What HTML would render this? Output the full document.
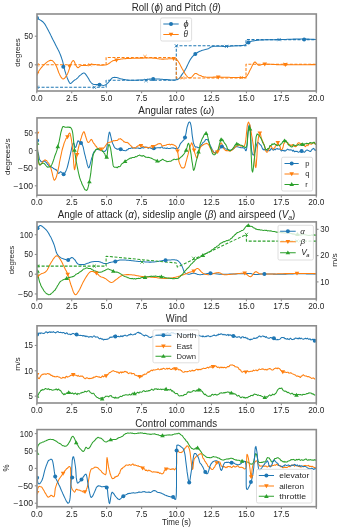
<!DOCTYPE html>
<html><head><meta charset="utf-8"><style>
html,body{margin:0;padding:0;background:#fff;}
svg{display:block;will-change:transform;font-family:"Liberation Sans",sans-serif;}
</style></head><body>
<svg width="342" height="531" viewBox="0 0 342 531">
<rect width="342" height="531" fill="#fff"/>
<g stroke="#8c8c8c" stroke-width="1.1" fill="#262626">
<line x1="36.80" y1="91.00" x2="36.80" y2="93.20" />
<line x1="71.74" y1="91.00" x2="71.74" y2="93.20" />
<line x1="106.67" y1="91.00" x2="106.67" y2="93.20" />
<line x1="141.61" y1="91.00" x2="141.61" y2="93.20" />
<line x1="176.55" y1="91.00" x2="176.55" y2="93.20" />
<line x1="211.49" y1="91.00" x2="211.49" y2="93.20" />
<line x1="246.43" y1="91.00" x2="246.43" y2="93.20" />
<line x1="281.36" y1="91.00" x2="281.36" y2="93.20" />
<line x1="316.30" y1="91.00" x2="316.30" y2="93.20" />
<text x="36.80" y="101.00" font-size="8.3" text-anchor="middle" stroke="none" textLength="11.6" lengthAdjust="spacingAndGlyphs" >0.0</text>
<text x="71.74" y="101.00" font-size="8.3" text-anchor="middle" stroke="none" textLength="11.6" lengthAdjust="spacingAndGlyphs" >2.5</text>
<text x="106.67" y="101.00" font-size="8.3" text-anchor="middle" stroke="none" textLength="11.6" lengthAdjust="spacingAndGlyphs" >5.0</text>
<text x="141.61" y="101.00" font-size="8.3" text-anchor="middle" stroke="none" textLength="11.6" lengthAdjust="spacingAndGlyphs" >7.5</text>
<text x="176.55" y="101.00" font-size="8.3" text-anchor="middle" stroke="none" textLength="16.2" lengthAdjust="spacingAndGlyphs" >10.0</text>
<text x="211.49" y="101.00" font-size="8.3" text-anchor="middle" stroke="none" textLength="16.2" lengthAdjust="spacingAndGlyphs" >12.5</text>
<text x="246.43" y="101.00" font-size="8.3" text-anchor="middle" stroke="none" textLength="16.2" lengthAdjust="spacingAndGlyphs" >15.0</text>
<text x="281.36" y="101.00" font-size="8.3" text-anchor="middle" stroke="none" textLength="16.2" lengthAdjust="spacingAndGlyphs" >17.5</text>
<text x="316.30" y="101.00" font-size="8.3" text-anchor="middle" stroke="none" textLength="16.2" lengthAdjust="spacingAndGlyphs" >20.0</text>
<line x1="34.80" y1="36.20" x2="37.00" y2="36.20" />
<text x="33.00" y="39.20" font-size="8.3" text-anchor="end" stroke="none" textLength="8.8" lengthAdjust="spacingAndGlyphs" >50</text>
<line x1="34.80" y1="64.80" x2="37.00" y2="64.80" />
<text x="33.00" y="67.80" font-size="8.3" text-anchor="end" stroke="none" textLength="4.4" lengthAdjust="spacingAndGlyphs" >0</text>
<line x1="36.80" y1="195.20" x2="36.80" y2="197.40" />
<line x1="71.74" y1="195.20" x2="71.74" y2="197.40" />
<line x1="106.67" y1="195.20" x2="106.67" y2="197.40" />
<line x1="141.61" y1="195.20" x2="141.61" y2="197.40" />
<line x1="176.55" y1="195.20" x2="176.55" y2="197.40" />
<line x1="211.49" y1="195.20" x2="211.49" y2="197.40" />
<line x1="246.43" y1="195.20" x2="246.43" y2="197.40" />
<line x1="281.36" y1="195.20" x2="281.36" y2="197.40" />
<line x1="316.30" y1="195.20" x2="316.30" y2="197.40" />
<text x="36.80" y="205.20" font-size="8.3" text-anchor="middle" stroke="none" textLength="11.6" lengthAdjust="spacingAndGlyphs" >0.0</text>
<text x="71.74" y="205.20" font-size="8.3" text-anchor="middle" stroke="none" textLength="11.6" lengthAdjust="spacingAndGlyphs" >2.5</text>
<text x="106.67" y="205.20" font-size="8.3" text-anchor="middle" stroke="none" textLength="11.6" lengthAdjust="spacingAndGlyphs" >5.0</text>
<text x="141.61" y="205.20" font-size="8.3" text-anchor="middle" stroke="none" textLength="11.6" lengthAdjust="spacingAndGlyphs" >7.5</text>
<text x="176.55" y="205.20" font-size="8.3" text-anchor="middle" stroke="none" textLength="16.2" lengthAdjust="spacingAndGlyphs" >10.0</text>
<text x="211.49" y="205.20" font-size="8.3" text-anchor="middle" stroke="none" textLength="16.2" lengthAdjust="spacingAndGlyphs" >12.5</text>
<text x="246.43" y="205.20" font-size="8.3" text-anchor="middle" stroke="none" textLength="16.2" lengthAdjust="spacingAndGlyphs" >15.0</text>
<text x="281.36" y="205.20" font-size="8.3" text-anchor="middle" stroke="none" textLength="16.2" lengthAdjust="spacingAndGlyphs" >17.5</text>
<text x="316.30" y="205.20" font-size="8.3" text-anchor="middle" stroke="none" textLength="16.2" lengthAdjust="spacingAndGlyphs" >20.0</text>
<line x1="34.80" y1="132.85" x2="37.00" y2="132.85" />
<text x="33.00" y="135.85" font-size="8.3" text-anchor="end" stroke="none" textLength="8.8" lengthAdjust="spacingAndGlyphs" >50</text>
<line x1="34.80" y1="150.50" x2="37.00" y2="150.50" />
<text x="33.00" y="153.50" font-size="8.3" text-anchor="end" stroke="none" textLength="4.4" lengthAdjust="spacingAndGlyphs" >0</text>
<line x1="34.80" y1="168.15" x2="37.00" y2="168.15" />
<text x="33.00" y="171.15" font-size="8.3" text-anchor="end" stroke="none" textLength="15.0" lengthAdjust="spacingAndGlyphs" >−50</text>
<line x1="34.80" y1="185.80" x2="37.00" y2="185.80" />
<text x="33.00" y="188.80" font-size="8.3" text-anchor="end" stroke="none" textLength="19.400000000000002" lengthAdjust="spacingAndGlyphs" >−100</text>
<line x1="36.80" y1="299.00" x2="36.80" y2="301.20" />
<line x1="71.74" y1="299.00" x2="71.74" y2="301.20" />
<line x1="106.67" y1="299.00" x2="106.67" y2="301.20" />
<line x1="141.61" y1="299.00" x2="141.61" y2="301.20" />
<line x1="176.55" y1="299.00" x2="176.55" y2="301.20" />
<line x1="211.49" y1="299.00" x2="211.49" y2="301.20" />
<line x1="246.43" y1="299.00" x2="246.43" y2="301.20" />
<line x1="281.36" y1="299.00" x2="281.36" y2="301.20" />
<line x1="316.30" y1="299.00" x2="316.30" y2="301.20" />
<text x="36.80" y="309.00" font-size="8.3" text-anchor="middle" stroke="none" textLength="11.6" lengthAdjust="spacingAndGlyphs" >0.0</text>
<text x="71.74" y="309.00" font-size="8.3" text-anchor="middle" stroke="none" textLength="11.6" lengthAdjust="spacingAndGlyphs" >2.5</text>
<text x="106.67" y="309.00" font-size="8.3" text-anchor="middle" stroke="none" textLength="11.6" lengthAdjust="spacingAndGlyphs" >5.0</text>
<text x="141.61" y="309.00" font-size="8.3" text-anchor="middle" stroke="none" textLength="11.6" lengthAdjust="spacingAndGlyphs" >7.5</text>
<text x="176.55" y="309.00" font-size="8.3" text-anchor="middle" stroke="none" textLength="16.2" lengthAdjust="spacingAndGlyphs" >10.0</text>
<text x="211.49" y="309.00" font-size="8.3" text-anchor="middle" stroke="none" textLength="16.2" lengthAdjust="spacingAndGlyphs" >12.5</text>
<text x="246.43" y="309.00" font-size="8.3" text-anchor="middle" stroke="none" textLength="16.2" lengthAdjust="spacingAndGlyphs" >15.0</text>
<text x="281.36" y="309.00" font-size="8.3" text-anchor="middle" stroke="none" textLength="16.2" lengthAdjust="spacingAndGlyphs" >17.5</text>
<text x="316.30" y="309.00" font-size="8.3" text-anchor="middle" stroke="none" textLength="16.2" lengthAdjust="spacingAndGlyphs" >20.0</text>
<line x1="34.80" y1="234.73" x2="37.00" y2="234.73" />
<text x="33.00" y="237.73" font-size="8.3" text-anchor="end" stroke="none" textLength="13.2" lengthAdjust="spacingAndGlyphs" >100</text>
<line x1="34.80" y1="254.46" x2="37.00" y2="254.46" />
<text x="33.00" y="257.46" font-size="8.3" text-anchor="end" stroke="none" textLength="8.8" lengthAdjust="spacingAndGlyphs" >50</text>
<line x1="34.80" y1="274.20" x2="37.00" y2="274.20" />
<text x="33.00" y="277.20" font-size="8.3" text-anchor="end" stroke="none" textLength="4.4" lengthAdjust="spacingAndGlyphs" >0</text>
<line x1="34.80" y1="293.94" x2="37.00" y2="293.94" />
<text x="33.00" y="296.94" font-size="8.3" text-anchor="end" stroke="none" textLength="15.0" lengthAdjust="spacingAndGlyphs" >−50</text>
<line x1="36.80" y1="403.00" x2="36.80" y2="405.20" />
<line x1="71.74" y1="403.00" x2="71.74" y2="405.20" />
<line x1="106.67" y1="403.00" x2="106.67" y2="405.20" />
<line x1="141.61" y1="403.00" x2="141.61" y2="405.20" />
<line x1="176.55" y1="403.00" x2="176.55" y2="405.20" />
<line x1="211.49" y1="403.00" x2="211.49" y2="405.20" />
<line x1="246.43" y1="403.00" x2="246.43" y2="405.20" />
<line x1="281.36" y1="403.00" x2="281.36" y2="405.20" />
<line x1="316.30" y1="403.00" x2="316.30" y2="405.20" />
<text x="36.80" y="413.00" font-size="8.3" text-anchor="middle" stroke="none" textLength="11.6" lengthAdjust="spacingAndGlyphs" >0.0</text>
<text x="71.74" y="413.00" font-size="8.3" text-anchor="middle" stroke="none" textLength="11.6" lengthAdjust="spacingAndGlyphs" >2.5</text>
<text x="106.67" y="413.00" font-size="8.3" text-anchor="middle" stroke="none" textLength="11.6" lengthAdjust="spacingAndGlyphs" >5.0</text>
<text x="141.61" y="413.00" font-size="8.3" text-anchor="middle" stroke="none" textLength="11.6" lengthAdjust="spacingAndGlyphs" >7.5</text>
<text x="176.55" y="413.00" font-size="8.3" text-anchor="middle" stroke="none" textLength="16.2" lengthAdjust="spacingAndGlyphs" >10.0</text>
<text x="211.49" y="413.00" font-size="8.3" text-anchor="middle" stroke="none" textLength="16.2" lengthAdjust="spacingAndGlyphs" >12.5</text>
<text x="246.43" y="413.00" font-size="8.3" text-anchor="middle" stroke="none" textLength="16.2" lengthAdjust="spacingAndGlyphs" >15.0</text>
<text x="281.36" y="413.00" font-size="8.3" text-anchor="middle" stroke="none" textLength="16.2" lengthAdjust="spacingAndGlyphs" >17.5</text>
<text x="316.30" y="413.00" font-size="8.3" text-anchor="middle" stroke="none" textLength="16.2" lengthAdjust="spacingAndGlyphs" >20.0</text>
<line x1="34.80" y1="345.45" x2="37.00" y2="345.45" />
<text x="33.00" y="348.45" font-size="8.3" text-anchor="end" stroke="none" textLength="8.8" lengthAdjust="spacingAndGlyphs" >15</text>
<line x1="34.80" y1="370.80" x2="37.00" y2="370.80" />
<text x="33.00" y="373.80" font-size="8.3" text-anchor="end" stroke="none" textLength="8.8" lengthAdjust="spacingAndGlyphs" >10</text>
<line x1="34.80" y1="396.15" x2="37.00" y2="396.15" />
<text x="33.00" y="399.15" font-size="8.3" text-anchor="end" stroke="none" textLength="4.4" lengthAdjust="spacingAndGlyphs" >5</text>
<line x1="36.80" y1="506.70" x2="36.80" y2="508.90" />
<line x1="71.74" y1="506.70" x2="71.74" y2="508.90" />
<line x1="106.67" y1="506.70" x2="106.67" y2="508.90" />
<line x1="141.61" y1="506.70" x2="141.61" y2="508.90" />
<line x1="176.55" y1="506.70" x2="176.55" y2="508.90" />
<line x1="211.49" y1="506.70" x2="211.49" y2="508.90" />
<line x1="246.43" y1="506.70" x2="246.43" y2="508.90" />
<line x1="281.36" y1="506.70" x2="281.36" y2="508.90" />
<line x1="316.30" y1="506.70" x2="316.30" y2="508.90" />
<text x="36.80" y="516.70" font-size="8.3" text-anchor="middle" stroke="none" textLength="11.6" lengthAdjust="spacingAndGlyphs" >0.0</text>
<text x="71.74" y="516.70" font-size="8.3" text-anchor="middle" stroke="none" textLength="11.6" lengthAdjust="spacingAndGlyphs" >2.5</text>
<text x="106.67" y="516.70" font-size="8.3" text-anchor="middle" stroke="none" textLength="11.6" lengthAdjust="spacingAndGlyphs" >5.0</text>
<text x="141.61" y="516.70" font-size="8.3" text-anchor="middle" stroke="none" textLength="11.6" lengthAdjust="spacingAndGlyphs" >7.5</text>
<text x="176.55" y="516.70" font-size="8.3" text-anchor="middle" stroke="none" textLength="16.2" lengthAdjust="spacingAndGlyphs" >10.0</text>
<text x="211.49" y="516.70" font-size="8.3" text-anchor="middle" stroke="none" textLength="16.2" lengthAdjust="spacingAndGlyphs" >12.5</text>
<text x="246.43" y="516.70" font-size="8.3" text-anchor="middle" stroke="none" textLength="16.2" lengthAdjust="spacingAndGlyphs" >15.0</text>
<text x="281.36" y="516.70" font-size="8.3" text-anchor="middle" stroke="none" textLength="16.2" lengthAdjust="spacingAndGlyphs" >17.5</text>
<line x1="34.80" y1="433.58" x2="37.00" y2="433.58" />
<text x="33.00" y="436.58" font-size="8.3" text-anchor="end" stroke="none" textLength="13.2" lengthAdjust="spacingAndGlyphs" >100</text>
<line x1="34.80" y1="450.99" x2="37.00" y2="450.99" />
<text x="33.00" y="453.99" font-size="8.3" text-anchor="end" stroke="none" textLength="8.8" lengthAdjust="spacingAndGlyphs" >50</text>
<line x1="34.80" y1="468.40" x2="37.00" y2="468.40" />
<text x="33.00" y="471.40" font-size="8.3" text-anchor="end" stroke="none" textLength="4.4" lengthAdjust="spacingAndGlyphs" >0</text>
<line x1="34.80" y1="485.81" x2="37.00" y2="485.81" />
<text x="33.00" y="488.81" font-size="8.3" text-anchor="end" stroke="none" textLength="15.0" lengthAdjust="spacingAndGlyphs" >−50</text>
<line x1="34.80" y1="503.22" x2="37.00" y2="503.22" />
<text x="33.00" y="506.22" font-size="8.3" text-anchor="end" stroke="none" textLength="19.400000000000002" lengthAdjust="spacingAndGlyphs" >−100</text>
<line x1="316.30" y1="229.30" x2="318.50" y2="229.30" />
<text x="320.30" y="231.90" font-size="8.3" text-anchor="start" stroke="none" textLength="8.8" lengthAdjust="spacingAndGlyphs" >30</text>
<line x1="316.30" y1="255.60" x2="318.50" y2="255.60" />
<text x="320.30" y="258.20" font-size="8.3" text-anchor="start" stroke="none" textLength="8.8" lengthAdjust="spacingAndGlyphs" >20</text>
<line x1="316.30" y1="281.90" x2="318.50" y2="281.90" />
<text x="320.30" y="284.50" font-size="8.3" text-anchor="start" stroke="none" textLength="8.8" lengthAdjust="spacingAndGlyphs" >10</text>
</g>
<clipPath id="c1"><rect x="37" y="14.0" width="279.3" height="77.2"/></clipPath><g clip-path="url(#c1)">
<path d="M37.0,18.1 L37.6,18.5 L38.4,18.9 L39.3,19.5 L40.4,20.1 L41.4,20.8 L42.4,21.5 L43.2,22.2 L44.2,23.3 L45.0,24.4 L45.8,25.7 L46.5,27.0 L47.3,28.4 L48.1,29.9 L48.9,31.5 L49.8,33.2 L50.6,34.9 L51.4,36.6 L52.2,38.2 L53.0,39.8 L53.9,41.5 L54.7,43.1 L55.5,44.7 L56.3,46.3 L57.2,48.0 L58.0,49.6 L58.9,51.3 L59.6,52.9 L60.5,55.0 L61.3,57.2 L62.0,59.3 L62.6,61.1 L63.2,63.6 L63.7,66.0 L64.3,68.3 L64.9,70.8 L65.7,73.4 L66.4,75.5 L67.2,77.9 L68.1,80.0 L68.8,81.6 L69.5,82.8 L70.1,83.4 L70.8,83.4 L71.5,83.0 L72.3,82.2 L73.1,81.4 L73.9,80.6 L74.7,80.0 L75.5,79.6 L76.2,79.1 L77.0,78.5 L77.7,77.8 L78.4,77.0 L79.2,76.1 L80.0,75.4 L80.8,74.8 L81.6,74.1 L82.5,73.5 L83.3,73.1 L84.1,73.0 L84.9,73.4 L85.7,74.3 L86.4,75.4 L87.2,76.5 L88.0,77.7 L88.8,79.1 L89.5,80.5 L90.3,81.6 L91.0,82.5 L91.6,83.2 L92.3,83.8 L93.3,84.2 L94.0,84.4 L94.9,84.5 L95.8,84.6 L96.8,84.6 L97.8,84.6 L98.7,84.6 L99.5,84.7 L100.5,84.9 L101.5,85.1 L102.4,85.3 L103.2,85.4 L104.1,85.3 L105.0,85.0 L105.8,84.6 L106.6,84.0 L107.4,83.3 L108.2,82.6 L109.0,81.7 L109.8,80.7 L110.7,79.6 L111.5,78.6 L112.3,77.9 L113.1,77.5 L113.9,77.4 L114.8,77.3 L115.6,77.4 L116.4,77.5 L117.2,77.6 L117.8,77.9 L118.6,78.1 L119.4,78.4 L120.5,78.7 L121.2,78.9 L122.0,79.0 L122.8,79.2 L123.6,79.4 L124.6,79.6 L125.5,79.8 L126.5,80.0 L127.6,80.1 L128.7,80.2 L129.5,80.2 L130.4,80.3 L131.2,80.3 L132.2,80.3 L133.1,80.3 L134.1,80.3 L135.0,80.3 L136.0,80.2 L137.0,80.2 L138.0,80.1 L139.0,80.1 L139.9,80.0 L140.9,80.0 L141.8,79.9 L142.8,79.9 L143.7,79.8 L144.7,79.7 L145.6,79.6 L146.6,79.5 L147.6,79.3 L148.5,79.2 L149.4,79.1 L150.4,79.1 L151.3,79.0 L152.3,78.9 L153.2,78.9 L154.2,78.9 L155.2,78.9 L156.3,78.9 L157.3,79.0 L158.3,79.0 L159.4,79.1 L160.4,79.2 L161.4,79.2 L162.3,79.3 L163.2,79.4 L164.1,79.4 L165.0,79.5 L166.1,79.6 L167.1,79.6 L168.1,79.7 L169.1,79.8 L170.0,79.9 L170.8,79.9 L171.7,80.0 L172.4,80.0 L173.2,80.0 L174.3,80.0 L175.2,79.9 L176.1,79.8 L176.9,79.7 L177.6,79.4 L178.3,79.1 L179.2,78.4 L179.9,77.6 L180.6,76.6 L181.4,75.4 L182.1,74.4 L182.9,73.3 L183.7,72.2 L184.6,70.8 L185.5,69.3 L186.3,67.8 L187.1,66.0 L188.0,64.1 L188.9,62.3 L189.8,60.6 L190.6,59.1 L191.6,57.7 L192.5,56.6 L193.4,55.7 L194.3,54.8 L195.3,54.0 L196.2,53.4 L197.0,52.8 L197.9,52.3 L198.8,51.8 L199.8,51.3 L200.8,50.9 L201.6,50.6 L202.5,50.3 L203.5,50.1 L204.4,49.8 L205.4,49.6 L206.3,49.3 L207.2,49.1 L208.0,48.8 L208.9,48.4 L209.6,47.9 L210.2,47.5 L210.9,47.0 L211.8,46.7 L213.1,46.4 L213.8,46.3 L214.6,46.3 L215.5,46.3 L216.4,46.2 L217.4,46.2 L218.5,46.3 L219.5,46.3 L220.6,46.3 L221.7,46.3 L222.7,46.4 L223.7,46.4 L224.7,46.4 L225.6,46.4 L226.4,46.4 L227.6,46.4 L228.6,46.3 L229.6,46.2 L230.5,46.2 L231.4,46.1 L232.3,46.0 L233.1,45.9 L234.0,45.9 L235.0,45.8 L235.9,45.7 L236.9,45.7 L237.9,45.7 L239.0,45.7 L240.0,45.6 L241.0,45.6 L241.9,45.5 L242.8,45.4 L243.6,45.3 L244.3,45.2 L245.5,44.7 L246.1,44.0 L246.6,43.3 L247.4,42.7 L248.1,42.4 L248.8,42.1 L249.6,41.8 L250.5,41.6 L251.4,41.3 L252.5,41.1 L253.2,41.0 L253.9,40.8 L254.6,40.7 L255.4,40.5 L256.2,40.4 L257.1,40.3 L258.1,40.2 L259.3,40.1 L260.7,40.0 L261.4,40.0 L262.2,39.9 L263.0,39.9 L263.9,39.9 L264.7,39.8 L265.7,39.8 L266.6,39.8 L267.6,39.8 L268.6,39.8 L269.6,39.8 L270.7,39.7 L271.7,39.7 L272.8,39.7 L273.8,39.7 L274.9,39.7 L275.9,39.7 L277.0,39.6 L278.1,39.6 L279.1,39.6 L280.0,39.6 L281.0,39.5 L282.0,39.5 L283.0,39.5 L284.0,39.4 L285.0,39.4 L286.1,39.4 L287.1,39.3 L288.1,39.3 L289.2,39.3 L290.2,39.2 L291.3,39.2 L292.3,39.2 L293.3,39.1 L294.3,39.1 L295.3,39.1 L296.3,39.1 L297.2,39.0 L298.2,39.0 L299.1,39.0 L300.0,39.0 L301.1,39.0 L302.2,39.0 L303.3,39.0 L304.4,39.0 L305.6,39.1 L306.7,39.1 L307.7,39.1 L308.8,39.1 L309.8,39.2 L310.8,39.2 L311.7,39.2 L312.6,39.3 L313.4,39.3 L314.2,39.3 L314.9,39.4 L315.5,39.4 L316.0,39.4" fill="none" stroke="#1f77b4" stroke-width="1.05" stroke-linejoin="round" />
<path d="M37.0,73.6 L37.5,72.8 L38.3,71.8 L39.2,70.5 L40.1,69.2 L41.2,67.8 L42.2,66.6 L43.2,65.5 L44.1,64.6 L45.0,63.8 L46.0,62.9 L47.0,62.1 L48.0,61.4 L48.9,60.9 L49.8,60.5 L50.6,60.3 L51.8,60.4 L52.8,61.0 L53.7,62.0 L54.6,63.1 L55.5,64.5 L56.4,66.2 L57.2,68.3 L58.0,70.5 L58.8,72.7 L59.6,74.4 L60.5,76.2 L61.4,77.7 L62.3,78.7 L63.3,79.0 L64.2,78.6 L65.1,77.7 L66.0,76.4 L66.9,74.9 L67.7,73.4 L68.6,71.2 L69.4,68.7 L70.1,66.2 L70.8,64.2 L71.7,62.2 L72.6,60.9 L73.5,60.5 L74.3,61.5 L75.1,63.5 L75.9,65.2 L76.6,66.4 L77.2,67.3 L78.0,67.7 L78.6,67.5 L79.3,66.8 L80.1,66.1 L81.0,65.6 L81.7,65.5 L82.5,65.5 L83.3,65.5 L84.2,65.5 L85.1,65.6 L86.0,65.5 L86.8,65.4 L87.6,65.2 L88.4,65.0 L89.2,64.7 L90.1,64.5 L91.0,64.4 L92.0,64.3 L92.8,64.3 L93.7,64.4 L94.6,64.5 L95.5,64.6 L96.5,64.8 L97.4,64.9 L98.3,65.0 L99.2,65.1 L100.0,65.2 L101.0,65.2 L102.0,65.2 L102.9,65.2 L103.8,65.1 L104.6,65.0 L105.4,64.9 L106.1,64.8 L107.1,64.5 L107.8,64.1 L108.5,63.7 L109.2,63.2 L110.0,62.7 L110.7,62.1 L111.5,61.6 L112.3,61.1 L113.0,60.8 L113.7,60.6 L114.4,60.5 L115.3,60.3 L116.4,60.1 L117.1,60.0 L117.8,59.8 L118.5,59.6 L119.3,59.5 L120.2,59.3 L121.1,59.1 L122.2,59.0 L123.3,58.8 L124.6,58.7 L125.4,58.6 L126.2,58.6 L127.0,58.5 L128.0,58.5 L128.9,58.4 L129.9,58.4 L130.9,58.4 L132.0,58.3 L133.0,58.3 L134.1,58.3 L135.1,58.2 L136.2,58.2 L137.2,58.2 L138.2,58.2 L139.1,58.1 L140.0,58.1 L140.9,58.1 L142.0,58.1 L143.1,58.1 L144.1,58.0 L145.1,58.0 L146.1,58.0 L147.1,58.0 L148.0,58.0 L148.9,58.0 L149.8,58.0 L150.7,58.0 L151.6,58.0 L152.4,58.1 L153.2,58.1 L154.3,58.2 L155.2,58.3 L156.1,58.4 L156.9,58.6 L157.7,58.7 L158.6,58.8 L159.4,59.0 L160.4,59.0 L161.4,59.1 L162.3,59.1 L163.2,59.1 L164.3,59.1 L165.4,59.0 L166.5,58.9 L167.6,58.9 L168.6,58.8 L169.7,58.8 L170.7,58.7 L171.6,58.7 L172.5,58.7 L173.2,58.7 L174.5,58.8 L175.4,58.9 L176.0,59.0 L176.6,59.4 L177.3,60.1 L178.1,61.2 L178.9,62.6 L179.8,64.1 L180.6,65.8 L181.4,67.3 L182.2,68.8 L183.1,70.3 L183.9,71.9 L184.8,73.2 L185.5,74.4 L186.3,75.5 L187.1,76.4 L187.8,77.1 L188.5,77.5 L189.3,77.7 L190.0,77.7 L190.8,77.5 L191.6,77.1 L192.5,76.3 L193.4,75.1 L194.4,74.0 L195.3,73.4 L196.1,73.4 L196.8,73.8 L197.7,74.4 L198.8,75.0 L199.5,75.3 L200.2,75.5 L201.0,75.8 L201.8,76.2 L202.7,76.4 L203.7,76.7 L204.7,76.9 L205.9,77.1 L206.6,77.2 L207.4,77.2 L208.2,77.2 L208.9,77.2 L209.8,77.2 L210.6,77.2 L211.5,77.2 L212.4,77.2 L213.4,77.1 L214.5,77.1 L215.7,77.1 L216.9,77.1 L218.2,77.1 L219.0,77.1 L219.8,77.1 L220.7,77.1 L221.6,77.2 L222.6,77.2 L223.6,77.2 L224.7,77.2 L225.8,77.3 L226.9,77.3 L228.0,77.3 L229.1,77.3 L230.2,77.4 L231.3,77.4 L232.4,77.4 L233.5,77.4 L234.5,77.5 L235.6,77.5 L236.5,77.5 L237.5,77.5 L238.4,77.5 L239.2,77.5 L240.0,77.5 L240.7,77.5 L241.3,77.5 L243.2,77.5 L244.4,77.5 L245.0,77.5 L245.4,77.3 L245.8,77.0 L246.4,76.5 L247.3,75.5 L248.1,74.1 L248.9,72.5 L249.7,70.8 L250.5,69.3 L251.3,67.7 L252.1,65.9 L253.0,64.2 L253.8,62.9 L254.6,62.1 L255.4,62.1 L256.1,62.8 L256.9,63.8 L257.8,64.7 L258.7,65.2 L259.3,65.3 L259.9,65.2 L260.4,65.0 L261.1,64.7 L261.9,64.5 L263.2,64.3 L264.8,64.2 L265.5,64.2 L266.1,64.2 L266.9,64.2 L267.7,64.2 L268.5,64.2 L269.3,64.3 L270.2,64.3 L271.1,64.3 L272.0,64.4 L273.0,64.4 L274.0,64.5 L275.0,64.5 L276.1,64.6 L277.2,64.6 L278.3,64.6 L279.4,64.7 L280.5,64.7 L281.7,64.7 L282.9,64.8 L284.1,64.8 L285.3,64.8 L286.2,64.8 L287.1,64.8 L288.0,64.8 L289.0,64.8 L290.0,64.8 L291.1,64.8 L292.1,64.8 L293.3,64.8 L294.4,64.8 L295.5,64.8 L296.7,64.8 L297.9,64.8 L299.0,64.8 L300.2,64.8 L301.4,64.7 L302.5,64.7 L303.6,64.7 L304.8,64.7 L305.9,64.7 L307.0,64.7 L308.0,64.7 L309.0,64.7 L310.0,64.7 L310.9,64.6 L311.8,64.6 L312.7,64.6 L313.5,64.6 L314.2,64.6 L314.9,64.6 L315.5,64.6 L316.0,64.6" fill="none" stroke="#ff7f0e" stroke-width="1.05" stroke-linejoin="round" />
<path d="M37.0,87.3 L106.1,87.3 L106.1,80.2 L176.3,80.2 L176.3,45.8 L246.0,45.8 L246.0,39.6 L316.0,39.6" fill="none" stroke="#1f77b4" stroke-width="1.05" stroke-dasharray="3,1.6" stroke-linejoin="round" />
<path d="M37.0,64.8 L106.1,64.8 L106.1,57.4 L176.3,57.4 L176.3,77.9 L246.0,77.9 L246.0,64.2 L316.0,64.2" fill="none" stroke="#ff7f0e" stroke-width="1.05" stroke-dasharray="3,1.6" stroke-linejoin="round" />
<circle cx="37.0" cy="18.1" r="2.0" fill="#1f77b4"/>
<circle cx="63.3" cy="66.7" r="2.0" fill="#1f77b4"/>
<circle cx="99.5" cy="84.7" r="2.0" fill="#1f77b4"/>
<circle cx="153.2" cy="78.9" r="2.0" fill="#1f77b4"/>
<circle cx="195.3" cy="54.0" r="2.0" fill="#1f77b4"/>
<circle cx="248.5" cy="42.5" r="2.0" fill="#1f77b4"/>
<circle cx="304.1" cy="39.6" r="2.0" fill="#1f77b4"/>
<path d="M34.7,72.0 L39.3,72.0 L37.0,75.9Z" fill="#ff7f0e"/>
<path d="M67.2,64.5 L71.8,64.5 L69.5,68.4Z" fill="#ff7f0e"/>
<path d="M114.1,58.5 L118.7,58.5 L116.4,62.4Z" fill="#ff7f0e"/>
<path d="M171.3,57.1 L175.9,57.1 L173.6,61.0Z" fill="#ff7f0e"/>
<path d="M215.9,75.5 L220.5,75.5 L218.2,79.4Z" fill="#ff7f0e"/>
<path d="M262.5,62.6 L267.1,62.6 L264.8,66.5Z" fill="#ff7f0e"/>
<path d="M283.0,63.0 L287.6,63.0 L285.3,66.9Z" fill="#ff7f0e"/>
<path d="M35.4,85.7 L38.6,88.9 M35.4,88.9 L38.6,85.7" stroke="#1f77b4" stroke-width="0.8" fill="none"/>
<path d="M92.8,85.7 L96.0,88.9 M92.8,88.9 L96.0,85.7" stroke="#1f77b4" stroke-width="0.8" fill="none"/>
<path d="M144.4,79.0 L147.6,82.2 M144.4,82.2 L147.6,79.0" stroke="#1f77b4" stroke-width="0.8" fill="none"/>
<path d="M174.7,44.2 L177.9,47.4 M174.7,47.4 L177.9,44.2" stroke="#1f77b4" stroke-width="0.8" fill="none"/>
<path d="M224.8,44.8 L228.0,48.0 M224.8,48.0 L228.0,44.8" stroke="#1f77b4" stroke-width="0.8" fill="none"/>
<path d="M277.5,38.0 L280.7,41.2 M277.5,41.2 L280.7,38.0" stroke="#1f77b4" stroke-width="0.8" fill="none"/>
<path d="M35.4,63.2 L38.6,66.4 M35.4,66.4 L38.6,63.2" stroke="#ff7f0e" stroke-width="0.8" fill="none"/>
<path d="M88.4,63.2 L91.6,66.4 M88.4,66.4 L91.6,63.2" stroke="#ff7f0e" stroke-width="0.8" fill="none"/>
<path d="M143.4,55.0 L146.6,58.2 M143.4,58.2 L146.6,55.0" stroke="#ff7f0e" stroke-width="0.8" fill="none"/>
<path d="M180.8,76.3 L184.0,79.5 M180.8,79.5 L184.0,76.3" stroke="#ff7f0e" stroke-width="0.8" fill="none"/>
<path d="M239.7,75.9 L242.9,79.1 M239.7,79.1 L242.9,75.9" stroke="#ff7f0e" stroke-width="0.8" fill="none"/>
<path d="M283.7,62.6 L286.9,65.8 M283.7,65.8 L286.9,62.6" stroke="#ff7f0e" stroke-width="0.8" fill="none"/>
<rect x="160.6" y="17.9" width="31.0" height="23.1" rx="1.6" fill="#fff" fill-opacity="0.8" stroke="#d6d6d6" stroke-width="0.8"/>
<path d="M163.3,23.9 L178.7,23.9" fill="none" stroke="#1f77b4" stroke-width="1.05" stroke-linejoin="round" />
<circle cx="171.0" cy="23.9" r="2.0" fill="#1f77b4"/>
<path d="M163.3,34.4 L178.7,34.4" fill="none" stroke="#ff7f0e" stroke-width="1.05" stroke-linejoin="round" />
<path d="M168.7,32.8 L173.3,32.8 L171.0,36.7Z" fill="#ff7f0e"/>
<text x="183.4" y="27.2" font-size="9.2" fill="#262626" font-family="Liberation Sans" font-style="italic">ϕ</text>
<text x="183.6" y="36.8" font-size="8.2" fill="#262626" font-family="Liberation Sans" font-style="italic">θ</text>
</g>
<clipPath id="c2"><rect x="37" y="117.9" width="279.3" height="77.3"/></clipPath><g clip-path="url(#c2)">
<path d="M37.1,140.1 L37.2,142.1 L37.2,144.5 L37.4,147.5 L37.6,150.2 L38.1,153.0 L38.8,155.8 L39.4,158.9 L39.9,160.1 L40.5,160.7 L41.1,161.8 L41.7,161.7 L42.4,161.7 L43.1,161.2 L43.8,161.2 L44.5,160.9 L45.1,161.5 L45.8,162.2 L46.4,162.6 L47.0,163.5 L47.6,164.5 L48.3,164.8 L49.0,166.0 L49.6,166.5 L50.3,166.6 L51.0,166.5 L51.8,167.4 L52.5,167.6 L53.2,168.2 L54.0,168.7 L54.7,169.0 L55.4,169.6 L56.1,169.6 L56.8,170.7 L57.5,171.5 L58.1,172.8 L58.7,173.5 L59.4,172.8 L60.0,172.1 L60.7,171.6 L61.3,172.2 L62.1,172.8 L62.8,174.1 L63.6,174.2 L64.3,173.7 L65.1,172.5 L65.9,171.0 L66.6,169.4 L67.3,167.3 L67.9,165.0 L68.6,162.1 L69.2,159.5 L69.9,156.6 L70.5,153.7 L71.2,150.5 L71.8,147.5 L72.5,145.2 L73.0,143.6 L73.6,142.9 L74.2,144.0 L74.7,146.6 L75.4,147.4 L76.0,146.9 L76.6,144.8 L77.3,142.5 L78.0,140.8 L78.7,141.2 L79.5,142.1 L80.3,142.1 L81.0,143.3 L81.8,144.1 L82.5,145.1 L83.2,147.1 L83.8,150.0 L84.5,153.3 L85.2,155.8 L85.9,158.9 L86.6,161.2 L87.2,164.4 L87.9,166.4 L88.5,167.9 L89.1,167.6 L89.8,165.5 L90.4,163.4 L91.1,160.7 L91.7,158.2 L92.4,156.4 L93.0,153.9 L93.8,152.1 L94.4,151.4 L95.1,151.0 L95.9,150.0 L96.6,149.2 L97.3,149.5 L97.9,149.0 L98.6,149.5 L99.2,150.0 L99.8,149.9 L100.5,150.1 L101.2,150.4 L101.9,150.8 L102.6,151.1 L103.3,151.2 L104.0,151.2 L104.7,151.4 L105.4,151.0 L106.1,150.0 L106.7,148.6 L107.1,146.0 L107.6,142.8 L108.0,140.0 L108.4,136.6 L108.9,134.0 L109.3,132.1 L109.9,132.7 L110.6,135.5 L111.2,138.2 L111.9,141.2 L112.5,143.2 L113.2,144.4 L113.9,146.3 L114.6,147.4 L115.3,148.3 L116.0,148.5 L116.7,149.0 L117.4,149.4 L118.1,148.9 L118.8,148.7 L119.3,149.1 L119.9,149.5 L120.7,149.2 L121.3,149.4 L122.0,149.9 L122.7,150.1 L123.5,150.5 L124.3,150.6 L125.1,150.7 L125.8,150.8 L126.4,150.3 L127.1,149.8 L127.8,149.7 L128.6,148.6 L129.5,148.5 L130.4,148.5 L131.1,148.1 L131.8,147.8 L132.6,148.3 L133.4,147.9 L134.3,147.8 L135.1,147.9 L136.0,148.3 L136.8,147.9 L137.6,148.0 L138.4,148.0 L139.1,148.5 L140.0,148.2 L140.7,148.5 L141.4,147.8 L142.0,147.6 L142.7,147.7 L143.4,148.0 L144.1,147.7 L145.0,147.3 L145.6,147.0 L146.3,147.3 L147.0,147.2 L147.7,147.8 L148.5,148.2 L149.2,147.8 L150.0,147.7 L150.8,148.3 L151.5,148.4 L152.3,148.7 L153.1,148.3 L153.8,148.0 L154.6,147.9 L155.4,148.3 L156.2,148.0 L157.0,147.8 L157.8,147.8 L158.5,147.7 L159.3,147.6 L160.1,148.0 L160.9,147.4 L161.7,146.9 L162.5,147.7 L163.2,148.0 L164.0,148.3 L164.8,147.9 L165.5,148.3 L166.3,148.5 L167.1,147.9 L167.8,148.2 L168.6,148.5 L169.3,148.5 L170.0,148.4 L170.7,148.2 L171.3,148.1 L172.2,148.0 L173.1,147.8 L174.0,148.3 L174.8,148.3 L175.6,148.8 L176.3,148.2 L176.9,148.7 L177.5,148.6 L178.4,148.0 L179.0,146.9 L179.5,145.7 L180.1,144.3 L180.8,142.9 L181.4,142.7 L182.1,141.7 L182.7,141.0 L183.5,140.4 L184.3,139.3 L185.0,137.4 L185.5,135.7 L186.1,132.8 L186.6,129.7 L187.1,127.1 L187.8,125.0 L188.5,122.8 L189.2,122.0 L189.8,122.0 L190.4,123.1 L191.0,125.4 L191.4,128.0 L191.7,130.3 L192.0,133.6 L192.4,136.6 L192.9,139.9 L193.4,143.0 L194.1,144.6 L194.7,146.0 L195.4,147.1 L196.1,146.9 L196.8,147.1 L197.5,147.3 L198.1,147.7 L198.8,147.6 L199.4,147.4 L200.0,147.3 L200.5,146.1 L201.2,145.1 L202.0,144.1 L202.6,143.3 L203.2,142.2 L204.0,142.0 L204.7,141.3 L205.5,139.8 L206.2,139.4 L207.0,139.4 L207.8,140.0 L208.6,141.4 L209.4,143.4 L210.2,145.4 L211.0,147.1 L211.7,148.5 L212.3,149.8 L213.1,150.9 L213.7,152.0 L214.3,152.7 L214.9,152.6 L215.5,152.1 L216.2,151.5 L217.0,151.1 L217.7,150.7 L218.4,150.3 L219.1,149.4 L219.8,148.8 L220.4,147.9 L221.1,147.0 L221.9,146.5 L222.6,146.6 L223.3,147.3 L224.0,147.6 L224.8,148.4 L225.6,148.9 L226.3,149.0 L227.0,149.4 L227.7,149.9 L228.4,149.7 L229.1,149.9 L229.9,150.0 L230.7,150.4 L231.4,150.4 L232.1,149.6 L232.8,149.4 L233.6,148.8 L234.4,147.8 L235.2,147.2 L236.0,146.4 L236.8,146.7 L237.6,146.8 L238.4,147.1 L239.3,147.3 L240.1,147.4 L241.0,147.7 L241.8,147.8 L242.6,147.6 L243.3,148.0 L243.9,147.8 L244.9,148.7 L245.5,150.6 L246.0,150.8 L246.5,149.5 L246.8,147.7 L247.0,146.0 L247.2,142.8 L247.4,139.2 L247.6,136.7 L247.8,133.2 L248.0,131.1 L248.2,129.3 L248.8,125.9 L249.4,124.5 L250.0,125.9 L250.2,127.8 L250.4,129.6 L250.6,133.1 L250.8,136.6 L250.9,140.4 L251.1,143.5 L251.3,147.1 L251.6,150.3 L251.8,151.6 L252.4,154.0 L253.1,154.9 L253.7,154.9 L254.4,153.5 L255.1,151.2 L255.8,148.0 L256.4,145.3 L257.0,143.7 L257.6,142.3 L258.1,142.4 L258.8,143.1 L259.4,143.7 L260.2,144.8 L261.0,145.2 L261.8,146.9 L262.6,149.1 L263.3,149.1 L263.9,150.0 L264.6,149.4 L265.4,150.3 L266.4,150.9 L267.0,150.9 L267.6,150.5 L268.3,150.2 L269.1,150.3 L269.8,150.8 L270.6,149.4 L271.5,148.4 L272.3,149.4 L273.1,150.2 L274.0,149.7 L274.7,149.3 L275.4,149.8 L276.0,148.9 L276.7,148.7 L277.4,148.5 L278.1,149.3 L278.8,149.1 L279.6,148.9 L280.5,149.9 L281.4,151.0 L282.4,150.2 L283.5,150.7 L284.1,150.3 L284.8,151.1 L285.5,150.9 L286.2,150.2 L286.9,149.7 L287.7,149.1 L288.5,149.8 L289.3,150.0 L290.1,149.7 L291.0,149.9 L291.8,150.0 L292.7,151.1 L293.5,150.2 L294.4,151.7 L295.3,151.3 L296.1,151.4 L296.9,151.2 L297.8,151.9 L298.6,152.2 L299.4,151.8 L300.1,151.4 L300.9,151.8 L301.6,152.2 L302.5,151.4 L303.4,151.7 L304.4,152.3 L305.3,151.4 L306.2,150.4 L307.1,149.9 L308.1,150.6 L309.0,150.8 L309.8,151.4 L310.7,151.5 L311.5,150.1 L312.3,149.2 L313.0,148.8 L313.7,148.4 L314.3,149.3 L314.9,150.1 L315.4,150.5 L315.8,149.3" fill="none" stroke="#1f77b4" stroke-width="1.05" stroke-linejoin="round" />
<path d="M37.1,133.8 L37.1,135.3 L37.2,137.8 L37.3,141.2 L37.4,143.9 L37.5,146.8 L37.6,150.2 L37.7,152.8 L37.9,155.6 L38.1,158.4 L38.3,160.8 L38.5,162.0 L39.0,163.9 L39.5,164.8 L40.3,164.9 L40.9,164.1 L41.6,163.4 L42.3,162.7 L43.1,161.3 L43.8,160.7 L44.5,160.0 L45.2,159.9 L45.9,160.5 L46.6,160.5 L47.3,161.7 L48.0,162.8 L48.7,163.1 L49.4,164.8 L50.1,166.0 L50.8,167.9 L51.5,170.4 L52.2,173.1 L52.9,176.4 L53.6,178.9 L54.3,180.3 L55.0,179.6 L55.7,178.6 L56.4,176.8 L57.1,174.2 L57.8,171.4 L58.4,168.4 L59.0,165.6 L59.5,162.4 L60.1,159.5 L60.7,156.6 L61.3,153.8 L62.0,150.5 L62.7,148.0 L63.5,145.5 L64.2,142.9 L64.8,141.6 L65.5,139.9 L66.2,138.3 L66.9,138.1 L67.5,136.7 L68.2,135.2 L68.8,133.9 L69.5,133.0 L70.1,133.5 L70.5,135.2 L71.0,137.4 L71.5,140.2 L71.9,143.2 L72.3,146.3 L72.7,150.0 L73.0,153.2 L73.2,156.6 L73.5,160.3 L73.7,163.4 L74.0,166.1 L74.2,168.2 L74.5,169.7 L75.0,168.3 L75.4,165.7 L76.0,161.8 L76.5,158.1 L77.1,154.4 L77.7,151.2 L78.4,148.0 L79.2,144.9 L79.9,142.3 L80.6,139.6 L81.3,137.7 L82.0,135.2 L82.7,133.4 L83.4,132.1 L84.1,131.8 L84.8,133.5 L85.5,136.0 L86.2,138.2 L86.9,140.4 L87.6,141.9 L88.3,142.5 L89.1,142.1 L89.8,141.2 L90.5,140.2 L91.1,139.4 L91.8,139.8 L92.3,140.5 L92.8,141.8 L93.5,143.1 L94.1,143.7 L94.8,144.5 L95.5,146.0 L96.3,146.3 L97.0,147.6 L97.8,148.5 L98.6,149.2 L99.4,149.1 L100.2,149.3 L100.9,149.4 L101.7,149.3 L102.5,149.3 L103.2,148.7 L104.0,147.5 L104.6,147.1 L105.3,146.0 L106.0,145.0 L106.7,144.2 L107.5,142.8 L108.2,142.8 L108.9,142.6 L109.7,142.2 L110.6,141.9 L111.4,141.7 L112.1,141.2 L112.8,141.2 L113.6,140.6 L114.3,140.7 L115.0,140.8 L115.6,140.6 L116.3,140.4 L117.0,140.5 L117.7,140.2 L118.4,139.1 L119.1,139.0 L119.8,139.0 L120.5,138.6 L121.1,139.2 L121.8,139.7 L122.5,140.1 L123.3,141.0 L124.0,141.9 L124.7,141.8 L125.5,142.4 L126.4,142.6 L127.2,142.3 L127.9,143.0 L128.6,143.3 L129.4,144.3 L130.1,145.0 L130.8,145.8 L131.4,146.1 L132.1,146.9 L132.8,147.6 L133.4,147.9 L134.1,147.7 L134.8,147.9 L135.6,147.7 L136.3,147.1 L137.0,146.5 L137.8,146.0 L138.5,145.7 L139.3,145.4 L140.1,145.5 L140.9,145.7 L141.6,145.8 L142.3,146.0 L143.1,146.5 L143.8,146.6 L144.5,147.0 L145.3,147.6 L146.1,147.5 L146.8,147.2 L147.5,147.8 L148.2,147.8 L149.0,147.4 L149.8,147.2 L150.6,147.1 L151.3,147.0 L152.1,146.6 L152.9,146.0 L153.7,145.8 L154.5,146.0 L155.4,145.3 L156.2,145.1 L157.1,144.5 L157.9,144.0 L158.6,143.7 L159.3,143.7 L159.9,143.5 L160.8,143.7 L161.3,144.5 L161.8,145.4 L162.5,146.2 L163.1,145.9 L163.8,145.5 L164.5,145.5 L165.3,145.3 L166.1,145.3 L166.9,144.5 L167.8,144.5 L168.5,144.5 L169.3,144.1 L170.2,144.9 L171.0,144.6 L171.9,144.3 L172.7,144.7 L173.5,144.7 L174.2,145.3 L174.8,145.5 L175.8,146.1 L176.5,147.0 L177.0,149.0 L177.5,150.7 L178.0,153.7 L178.4,156.7 L178.7,160.3 L179.2,162.4 L179.8,164.0 L180.4,165.4 L181.1,167.0 L181.8,167.8 L182.4,168.0 L183.1,167.8 L183.8,167.9 L184.5,167.3 L185.1,165.5 L185.8,162.7 L186.6,159.9 L187.3,157.2 L188.0,154.7 L188.7,151.9 L189.4,148.8 L190.2,146.4 L190.9,144.6 L191.5,142.9 L192.2,143.9 L192.8,145.5 L193.5,148.2 L194.1,150.7 L194.8,153.1 L195.4,154.9 L196.1,156.9 L196.8,158.0 L197.5,157.5 L198.1,154.6 L198.8,151.9 L199.4,150.3 L200.0,148.4 L200.5,147.3 L201.2,146.3 L202.0,145.7 L202.6,145.6 L203.3,144.5 L204.1,144.2 L204.8,143.9 L205.6,143.7 L206.3,143.3 L207.0,143.7 L207.8,143.8 L208.5,144.6 L209.2,145.6 L209.8,147.3 L210.5,148.4 L211.2,149.1 L211.9,149.9 L212.6,151.4 L213.3,152.3 L214.0,153.0 L214.7,153.0 L215.4,153.1 L216.1,152.6 L216.8,152.6 L217.5,151.3 L218.2,150.1 L218.9,148.3 L219.7,146.1 L220.4,143.7 L221.1,142.7 L221.8,143.6 L222.4,144.9 L223.0,146.8 L223.7,148.6 L224.6,149.5 L225.2,150.2 L225.9,150.6 L226.7,150.6 L227.4,150.7 L228.2,150.6 L229.1,150.8 L229.9,151.4 L230.7,150.7 L231.4,150.6 L232.2,149.8 L233.0,149.0 L233.7,148.7 L234.5,147.8 L235.3,146.8 L236.1,146.1 L236.9,146.0 L237.7,145.7 L238.5,145.0 L239.3,145.0 L240.2,146.0 L241.0,145.8 L241.9,146.2 L242.7,146.2 L243.4,146.4 L244.1,145.9 L244.7,145.2 L245.3,143.1 L245.8,139.9 L246.2,136.5 L246.5,132.9 L246.8,130.3 L247.1,127.2 L247.4,124.8 L248.0,123.1 L248.6,122.1 L249.1,123.2 L249.7,124.2 L250.2,127.0 L250.9,130.4 L251.3,133.1 L251.7,135.5 L252.2,138.1 L252.6,141.0 L253.1,144.1 L253.5,146.7 L253.8,149.5 L254.1,152.6 L254.4,155.8 L254.7,159.9 L255.0,163.1 L255.2,165.9 L255.5,167.1 L255.8,167.6 L256.0,166.6 L256.3,165.2 L256.5,160.9 L256.8,157.5 L257.0,154.1 L257.2,149.4 L257.5,146.6 L257.7,144.3 L257.9,141.6 L258.5,137.2 L259.1,134.5 L259.8,132.6 L260.4,133.4 L261.1,137.2 L261.8,139.1 L262.6,141.4 L263.3,142.5 L264.0,144.7 L264.8,146.8 L265.6,150.5 L266.4,151.9 L267.2,152.2 L267.9,151.5 L268.7,149.1 L269.4,148.1 L270.2,146.4 L271.0,145.7 L271.7,147.2 L272.5,148.3 L273.2,149.2 L274.0,148.3 L274.8,147.8 L275.5,145.7 L276.3,145.4 L277.0,144.7 L277.8,143.0 L278.6,144.9 L279.3,145.4 L280.1,146.6 L280.8,149.5 L281.6,149.7 L282.3,149.1 L283.0,147.5 L283.7,143.8 L284.5,142.8 L285.4,141.1 L286.0,141.2 L286.6,141.4 L287.3,143.1 L288.0,144.4 L288.7,144.4 L289.5,144.3 L290.3,145.0 L291.1,145.6 L291.8,144.9 L292.5,144.6 L293.2,145.8 L294.0,146.0 L294.8,146.6 L295.6,146.7 L296.4,146.2 L297.1,144.5 L297.9,143.1 L298.7,142.7 L299.5,143.0 L300.2,143.5 L300.9,143.9 L301.6,143.7 L302.4,145.1 L303.1,144.5 L303.9,144.8 L304.7,146.1 L305.5,146.6 L306.3,145.5 L307.1,144.7 L307.9,145.8 L308.8,144.1 L309.7,143.5 L310.6,144.1 L311.5,144.3 L312.4,143.4 L313.3,142.5 L314.0,142.3 L314.7,143.7 L315.3,143.5 L315.8,144.7" fill="none" stroke="#ff7f0e" stroke-width="1.05" stroke-linejoin="round" />
<path d="M37.1,143.4 L37.2,145.6 L37.2,147.5 L37.4,150.3 L37.6,152.9 L37.9,156.3 L38.3,159.7 L38.8,162.4 L39.4,164.7 L40.0,164.9 L40.7,164.6 L41.4,163.7 L42.2,163.5 L42.9,163.1 L43.6,163.2 L44.3,163.5 L45.0,164.4 L45.7,165.3 L46.4,166.0 L47.1,166.8 L47.8,167.3 L48.5,167.1 L49.2,166.8 L49.9,166.9 L50.6,166.5 L51.3,165.4 L51.9,164.4 L52.6,162.7 L53.4,160.5 L54.1,158.4 L54.8,156.0 L55.5,154.2 L56.3,152.2 L57.1,149.8 L57.8,146.8 L58.4,144.3 L59.1,141.7 L59.7,138.7 L60.3,135.5 L60.9,132.4 L61.6,130.0 L62.2,127.9 L62.9,126.6 L63.7,126.5 L64.5,127.1 L65.2,127.2 L65.9,127.2 L66.6,127.2 L67.4,127.1 L68.1,127.2 L68.8,127.0 L69.5,127.5 L70.1,127.2 L70.8,127.7 L71.5,128.7 L72.1,130.1 L72.7,132.8 L73.0,135.2 L73.3,138.2 L73.6,141.1 L73.9,143.7 L74.2,147.1 L74.5,150.1 L74.9,152.9 L75.3,155.3 L75.7,158.3 L76.1,161.3 L76.6,163.2 L77.1,166.0 L77.7,168.8 L78.3,171.8 L79.0,175.0 L79.8,178.0 L80.6,180.4 L81.3,181.7 L82.0,184.1 L82.8,185.5 L83.7,187.2 L84.5,189.1 L85.2,189.9 L85.9,190.1 L86.7,190.4 L87.5,189.3 L88.2,186.9 L88.8,184.3 L89.4,181.5 L89.9,178.7 L90.4,175.7 L90.8,173.2 L91.2,169.5 L91.6,166.3 L92.0,163.6 L92.4,160.2 L92.7,157.7 L93.0,155.7 L93.5,154.0 L94.1,152.6 L94.8,151.6 L95.5,150.0 L96.3,149.3 L97.0,149.5 L97.7,148.7 L98.4,148.7 L99.1,149.2 L99.8,149.4 L100.5,150.0 L101.2,150.0 L101.9,150.4 L102.7,151.6 L103.4,151.8 L104.0,153.0 L104.8,153.9 L105.5,156.2 L106.1,157.4 L106.7,157.4 L107.2,154.9 L107.6,151.1 L108.0,148.0 L108.4,145.4 L109.0,144.3 L109.6,145.2 L110.2,147.0 L110.6,148.3 L111.1,151.6 L111.5,154.5 L111.9,157.1 L112.3,159.4 L112.7,162.2 L113.1,165.4 L113.7,166.7 L114.3,167.2 L115.0,167.3 L115.8,167.2 L116.5,167.3 L117.2,167.8 L117.9,167.0 L118.5,166.5 L119.2,166.7 L119.8,166.5 L120.5,166.1 L121.1,164.7 L121.8,163.8 L122.5,163.6 L123.1,162.9 L123.8,162.6 L124.4,161.9 L125.1,161.0 L125.7,160.6 L126.3,160.5 L127.0,160.2 L127.8,159.6 L128.6,159.0 L129.3,158.7 L130.0,158.3 L130.8,158.1 L131.5,158.1 L132.3,157.4 L133.1,157.4 L133.9,157.5 L134.6,157.4 L135.4,156.6 L136.1,156.8 L136.9,156.7 L137.6,155.9 L138.4,155.5 L139.1,155.3 L139.8,155.0 L140.6,155.8 L141.3,155.7 L142.1,156.2 L142.8,155.7 L143.6,155.5 L144.4,156.3 L145.1,156.7 L145.8,157.2 L146.5,157.2 L147.2,157.2 L148.0,157.6 L148.7,157.2 L149.5,157.6 L150.3,157.9 L151.0,157.9 L151.8,158.6 L152.6,158.8 L153.4,159.4 L154.3,159.7 L155.1,160.0 L155.8,160.3 L156.6,160.8 L157.3,161.5 L158.1,161.7 L158.9,161.5 L159.6,161.3 L160.4,160.4 L161.1,160.5 L161.8,159.8 L162.5,159.3 L163.3,159.6 L164.0,160.2 L164.8,160.4 L165.5,160.9 L166.3,161.0 L167.0,161.8 L167.8,161.6 L168.6,161.5 L169.3,161.3 L170.1,161.3 L170.8,161.3 L171.6,160.6 L172.3,160.1 L173.1,159.9 L173.9,159.2 L174.6,159.2 L175.4,159.6 L176.2,159.7 L176.9,159.0 L177.6,159.3 L178.3,158.9 L179.1,159.0 L179.8,158.2 L180.4,157.4 L181.1,156.9 L181.8,156.6 L182.5,155.5 L183.3,154.9 L184.1,153.8 L184.9,152.4 L185.6,151.0 L186.2,150.0 L187.1,147.2 L187.8,144.2 L188.5,143.2 L189.1,144.5 L189.7,147.0 L190.3,149.9 L190.7,152.2 L191.2,155.2 L191.6,158.6 L192.0,161.3 L192.4,163.5 L192.9,167.0 L193.3,169.7 L193.8,170.4 L194.4,169.1 L195.1,166.3 L195.9,162.6 L196.5,160.2 L197.2,157.7 L197.8,155.1 L198.5,152.5 L199.1,149.4 L199.7,146.7 L200.3,143.5 L201.1,141.6 L201.7,139.9 L202.4,138.3 L203.2,137.1 L203.9,135.3 L204.7,133.9 L205.4,133.7 L206.1,133.6 L206.9,134.1 L207.6,136.0 L208.3,139.0 L208.9,141.6 L209.6,144.8 L210.3,146.7 L211.0,149.0 L211.7,151.3 L212.4,153.3 L213.2,154.4 L213.9,154.8 L214.6,154.8 L215.3,154.1 L216.1,152.9 L216.8,152.5 L217.5,151.3 L218.3,148.7 L219.0,146.1 L219.6,143.6 L220.3,141.6 L221.1,139.5 L221.8,138.8 L222.5,139.5 L223.2,140.4 L223.9,142.0 L224.7,143.4 L225.4,144.1 L226.1,145.1 L226.8,146.7 L227.4,148.6 L228.1,149.5 L228.9,150.5 L229.8,150.5 L230.5,150.7 L231.2,149.7 L232.0,149.6 L232.8,148.5 L233.7,147.4 L234.5,145.9 L235.3,144.8 L236.1,144.2 L236.8,144.2 L237.7,143.9 L238.5,143.7 L239.2,144.6 L240.0,144.9 L240.7,145.2 L241.4,145.2 L242.1,145.4 L242.9,146.3 L243.7,146.4 L244.5,147.0 L245.3,147.5 L245.9,147.2 L246.5,146.8 L247.0,145.1 L247.4,142.1 L247.6,138.6 L247.9,134.9 L248.2,132.0 L248.8,128.6 L249.4,126.1 L250.0,128.5 L250.1,130.7 L250.3,132.5 L250.4,135.6 L250.5,138.9 L250.7,141.6 L250.8,145.5 L250.9,148.9 L251.1,152.2 L251.2,155.5 L251.4,158.7 L251.5,162.2 L251.7,165.1 L251.8,168.1 L252.0,170.2 L252.1,170.9 L252.6,172.1 L253.0,170.4 L253.5,166.7 L253.9,162.4 L254.4,158.4 L254.7,156.3 L254.9,153.1 L255.1,149.4 L255.3,145.9 L255.6,142.7 L255.8,139.9 L256.1,136.9 L256.5,135.8 L257.1,133.9 L257.7,134.3 L258.4,134.9 L259.1,134.9 L259.9,136.9 L260.7,137.7 L261.3,138.9 L262.0,140.6 L262.7,142.5 L263.5,144.1 L264.2,144.8 L264.9,147.5 L265.7,149.4 L266.4,149.6 L267.1,149.6 L267.8,148.5 L268.5,148.7 L269.2,147.7 L269.9,145.6 L270.6,145.4 L271.3,145.3 L272.1,143.8 L272.8,144.7 L273.5,144.1 L274.3,143.4 L275.1,144.5 L275.8,144.4 L276.6,145.4 L277.4,145.7 L278.1,144.8 L278.8,145.1 L279.6,145.7 L280.3,144.7 L281.0,143.9 L281.7,143.8 L282.3,142.4 L283.0,141.5 L283.8,141.1 L284.5,141.5 L285.2,140.6 L285.8,140.2 L286.5,141.8 L287.1,142.6 L287.8,142.8 L288.5,144.6 L289.3,145.7 L290.2,145.8 L291.1,146.8 L291.7,147.0 L292.4,146.8 L293.0,145.8 L293.7,144.6 L294.5,145.4 L295.2,145.9 L296.0,145.3 L296.8,145.2 L297.6,145.2 L298.4,144.5 L299.2,145.1 L300.0,145.0 L300.8,144.5 L301.7,143.6 L302.5,144.2 L303.3,143.9 L304.1,144.6 L304.9,143.7 L305.8,143.7 L306.7,143.2 L307.6,143.4 L308.5,143.9 L309.4,143.0 L310.3,142.5 L311.2,143.1 L312.0,142.7 L312.8,143.2 L313.5,142.7 L314.2,142.2 L314.8,143.0 L315.4,144.2 L315.8,144.6" fill="none" stroke="#2ca02c" stroke-width="1.05" stroke-linejoin="round" />
<circle cx="37.1" cy="140.4" r="2.0" fill="#1f77b4"/>
<circle cx="63.6" cy="174.3" r="2.0" fill="#1f77b4"/>
<circle cx="81.0" cy="143.1" r="2.0" fill="#1f77b4"/>
<circle cx="120.7" cy="149.2" r="2.0" fill="#1f77b4"/>
<circle cx="153.8" cy="148.3" r="2.0" fill="#1f77b4"/>
<circle cx="185.0" cy="137.5" r="2.0" fill="#1f77b4"/>
<circle cx="221.9" cy="146.6" r="2.0" fill="#1f77b4"/>
<circle cx="301.6" cy="151.1" r="2.0" fill="#1f77b4"/>
<path d="M34.8,131.8 L39.4,131.8 L37.1,135.7Z" fill="#ff7f0e"/>
<path d="M65.2,135.3 L69.8,135.3 L67.5,139.2Z" fill="#ff7f0e"/>
<path d="M74.8,152.9 L79.4,152.9 L77.1,156.8Z" fill="#ff7f0e"/>
<path d="M98.6,147.6 L103.2,147.6 L100.9,151.5Z" fill="#ff7f0e"/>
<path d="M138.6,144.1 L143.2,144.1 L140.9,148.0Z" fill="#ff7f0e"/>
<path d="M150.6,145.0 L155.2,145.0 L152.9,148.9Z" fill="#ff7f0e"/>
<path d="M175.2,149.4 L179.8,149.4 L177.5,153.3Z" fill="#ff7f0e"/>
<path d="M191.8,148.5 L196.4,148.5 L194.1,152.4Z" fill="#ff7f0e"/>
<path d="M215.2,150.2 L219.8,150.2 L217.5,154.1Z" fill="#ff7f0e"/>
<path d="M257.5,131.5 L262.1,131.5 L259.8,135.4Z" fill="#ff7f0e"/>
<path d="M275.5,141.0 L280.1,141.0 L277.8,144.9Z" fill="#ff7f0e"/>
<path d="M34.8,144.7 L39.4,144.7 L37.1,140.8Z" fill="#2ca02c"/>
<path d="M55.5,148.2 L60.1,148.2 L57.8,144.3Z" fill="#2ca02c"/>
<path d="M72.2,151.7 L76.8,151.7 L74.5,147.8Z" fill="#2ca02c"/>
<path d="M87.1,183.3 L91.7,183.3 L89.4,179.4Z" fill="#2ca02c"/>
<path d="M104.4,158.7 L109.0,158.7 L106.7,154.8Z" fill="#2ca02c"/>
<path d="M122.8,163.1 L127.4,163.1 L125.1,159.2Z" fill="#2ca02c"/>
<path d="M155.0,162.6 L159.6,162.6 L157.3,158.7Z" fill="#2ca02c"/>
<path d="M183.9,151.7 L188.5,151.7 L186.2,147.8Z" fill="#2ca02c"/>
<path d="M196.2,153.4 L200.8,153.4 L198.5,149.5Z" fill="#2ca02c"/>
<path d="M203.8,135.0 L208.4,135.0 L206.1,131.1Z" fill="#2ca02c"/>
<path d="M218.8,141.2 L223.4,141.2 L221.1,137.3Z" fill="#2ca02c"/>
<path d="M234.5,145.6 L239.1,145.6 L236.8,141.7Z" fill="#2ca02c"/>
<path d="M247.7,130.6 L252.3,130.6 L250.0,126.7Z" fill="#2ca02c"/>
<path d="M282.2,142.3 L286.8,142.3 L284.5,138.4Z" fill="#2ca02c"/>
<path d="M300.2,146.1 L304.8,146.1 L302.5,142.2Z" fill="#2ca02c"/>
<rect x="281.6" y="157.2" width="31.0" height="33.8" rx="1.6" fill="#fff" fill-opacity="0.8" stroke="#d6d6d6" stroke-width="0.8"/>
<path d="M284.5,163.5 L298.7,163.5" fill="none" stroke="#1f77b4" stroke-width="1.05" stroke-linejoin="round" />
<circle cx="291.7" cy="163.5" r="2.0" fill="#1f77b4"/>
<text x="305.2" y="165.8" font-size="7.5" fill="#262626">p</text>
<path d="M284.5,173.9 L298.7,173.9" fill="none" stroke="#ff7f0e" stroke-width="1.05" stroke-linejoin="round" />
<path d="M289.4,172.3 L294.0,172.3 L291.7,176.2Z" fill="#ff7f0e"/>
<text x="305.2" y="176.2" font-size="7.5" fill="#262626">q</text>
<path d="M284.5,184.4 L298.7,184.4" fill="none" stroke="#2ca02c" stroke-width="1.05" stroke-linejoin="round" />
<path d="M289.4,186.0 L294.0,186.0 L291.7,182.1Z" fill="#2ca02c"/>
<text x="305.2" y="186.7" font-size="7.5" fill="#262626">r</text>
</g>
<clipPath id="c3"><rect x="37" y="221.9" width="279.3" height="77.1"/></clipPath><g clip-path="url(#c3)">
<path d="M37.5,228.2 L38.2,227.3 L39.1,226.2 L40.1,225.5 L40.8,225.6 L41.6,225.9 L42.3,226.5 L43.2,227.2 L44.0,227.8 L44.8,228.5 L45.6,229.3 L46.5,230.2 L47.3,231.3 L48.1,232.5 L49.0,233.9 L49.8,235.4 L50.7,236.9 L51.4,238.4 L52.2,240.2 L53.0,242.0 L53.7,243.8 L54.4,245.6 L55.1,248.1 L55.8,250.6 L56.5,252.8 L57.2,254.1 L57.9,255.2 L58.7,256.1 L59.6,256.9 L60.3,257.5 L61.1,257.9 L62.0,258.3 L62.8,258.6 L63.7,258.9 L64.6,259.2 L65.5,259.5 L66.4,259.8 L67.4,259.9 L68.2,259.9 L69.2,259.4 L70.1,258.6 L71.0,257.8 L71.8,257.5 L72.6,257.7 L73.4,258.3 L74.1,259.1 L74.9,259.9 L75.6,260.9 L76.3,262.1 L77.0,263.2 L78.0,264.0 L78.7,264.3 L79.5,264.5 L80.3,264.6 L81.3,264.6 L82.2,264.6 L83.1,264.5 L84.1,264.4 L84.9,264.2 L85.8,263.9 L86.7,263.6 L87.6,263.2 L88.6,262.9 L89.5,262.5 L90.4,262.2 L91.3,262.0 L92.2,261.8 L93.1,261.7 L94.0,261.6 L94.9,261.5 L95.8,261.5 L96.7,261.5 L97.5,261.5 L98.4,261.6 L99.4,261.8 L100.4,262.1 L101.4,262.5 L102.4,262.8 L103.3,263.2 L104.2,263.5 L105.1,263.6 L106.0,263.6 L106.9,263.4 L107.8,263.2 L108.6,262.9 L109.4,262.6 L110.2,262.4 L111.0,262.2 L111.8,262.1 L112.6,261.9 L113.4,261.8 L114.3,261.6 L115.3,261.4 L116.0,261.2 L116.7,261.0 L117.4,260.7 L118.1,260.5 L118.9,260.3 L119.9,260.1 L121.0,259.9 L122.5,259.9 L123.2,259.9 L124.0,260.0 L124.8,260.0 L125.7,260.1 L126.7,260.2 L127.7,260.2 L128.7,260.3 L129.8,260.5 L130.8,260.6 L131.9,260.7 L133.0,260.8 L134.1,260.9 L135.2,261.1 L136.2,261.2 L137.2,261.3 L138.2,261.4 L139.2,261.5 L140.1,261.5 L140.9,261.6 L142.0,261.7 L143.1,261.8 L144.2,261.8 L145.1,261.9 L146.1,261.9 L147.0,262.0 L147.9,262.0 L148.7,262.1 L149.6,262.1 L150.5,262.1 L151.4,262.1 L152.3,262.0 L153.2,262.0 L154.2,261.9 L155.1,261.8 L156.1,261.7 L157.1,261.6 L158.0,261.4 L159.0,261.3 L160.0,261.1 L161.0,261.0 L161.9,260.8 L162.8,260.6 L163.8,260.5 L164.6,260.4 L165.5,260.3 L166.6,260.2 L167.7,260.1 L168.8,260.0 L169.8,259.9 L170.9,259.9 L171.8,259.8 L172.8,259.8 L173.7,259.8 L174.5,259.8 L175.2,259.9 L176.4,260.1 L177.3,260.4 L178.0,260.8 L178.6,261.3 L179.3,262.0 L180.2,263.1 L181.0,264.4 L181.7,265.8 L182.4,267.1 L183.1,268.9 L183.6,270.7 L184.4,272.2 L185.1,272.9 L185.8,273.4 L186.7,273.8 L187.6,274.1 L188.5,274.3 L189.3,274.3 L190.1,274.1 L191.0,273.8 L191.9,273.5 L192.8,273.3 L193.7,273.2 L194.5,273.3 L195.2,273.5 L196.0,273.8 L196.8,274.1 L197.7,274.4 L198.7,274.6 L199.8,274.7 L200.6,274.7 L201.5,274.6 L202.4,274.4 L203.4,274.3 L204.4,274.1 L205.4,273.9 L206.4,273.7 L207.4,273.5 L208.5,273.4 L209.4,273.2 L210.4,273.2 L211.4,273.2 L212.3,273.3 L213.3,273.4 L214.2,273.5 L215.1,273.7 L216.0,273.8 L217.0,274.0 L218.0,274.1 L219.1,274.2 L220.3,274.3 L221.2,274.3 L222.1,274.3 L223.0,274.3 L224.0,274.3 L225.0,274.3 L226.1,274.2 L227.1,274.2 L228.2,274.2 L229.2,274.1 L230.3,274.1 L231.3,274.0 L232.3,274.0 L233.2,274.0 L234.1,273.9 L235.0,273.9 L236.1,273.9 L237.2,273.8 L238.2,273.8 L239.2,273.8 L240.1,273.7 L241.1,273.7 L241.9,273.7 L242.8,273.7 L243.5,273.6 L244.3,273.6 L245.0,273.6 L246.1,273.6 L247.0,273.5 L247.8,273.5 L248.5,273.4 L249.2,273.5 L250.0,273.5 L250.8,273.6 L251.5,273.8 L252.2,274.0 L253.0,274.2 L253.9,274.4 L255.0,274.5 L255.7,274.5 L256.4,274.5 L257.2,274.4 L258.1,274.4 L258.9,274.3 L259.8,274.2 L260.8,274.1 L261.8,274.0 L262.8,274.0 L263.9,273.9 L265.0,273.9 L265.8,273.9 L266.6,273.9 L267.5,273.9 L268.4,273.9 L269.3,274.0 L270.2,274.0 L271.1,274.0 L272.1,274.0 L273.0,274.1 L274.0,274.1 L275.0,274.1 L276.0,274.2 L277.0,274.2 L278.0,274.2 L279.0,274.2 L280.0,274.2 L280.9,274.2 L281.8,274.2 L282.7,274.2 L283.6,274.1 L284.5,274.1 L285.4,274.1 L286.4,274.1 L287.3,274.0 L288.2,274.0 L289.2,274.0 L290.2,273.9 L291.1,273.9 L292.1,273.9 L293.0,273.9 L294.0,273.8 L295.0,273.8 L296.0,273.8 L297.0,273.8 L297.9,273.8 L298.9,273.8 L299.9,273.8 L301.0,273.8 L302.1,273.8 L303.2,273.8 L304.3,273.8 L305.4,273.8 L306.5,273.9 L307.6,273.9 L308.6,273.9 L309.7,273.9 L310.7,273.9 L311.6,273.9 L312.5,274.0 L313.4,274.0 L314.2,274.0 L314.9,274.0 L315.5,274.0 L316.0,274.0" fill="none" stroke="#1f77b4" stroke-width="1.05" stroke-linejoin="round" />
<path d="M37.5,276.3 L38.1,275.9 L39.0,275.3 L40.0,274.6 L41.1,273.9 L41.9,273.5 L42.7,273.3 L43.6,273.0 L44.5,272.6 L45.4,272.0 L46.3,271.2 L47.2,270.0 L48.0,268.5 L48.9,266.8 L49.7,265.1 L50.6,263.4 L51.4,262.0 L52.3,260.7 L53.1,259.3 L54.0,258.1 L54.9,257.0 L55.7,256.2 L56.5,255.8 L57.4,255.9 L58.2,256.5 L59.0,257.5 L59.8,258.7 L60.6,259.9 L61.4,261.3 L62.3,263.0 L63.1,264.8 L64.0,266.5 L64.7,268.1 L65.5,269.7 L66.3,271.1 L67.0,272.5 L67.7,274.3 L68.4,276.6 L69.2,279.2 L70.0,281.9 L70.8,284.5 L71.6,286.7 L72.4,289.2 L73.2,291.5 L74.1,293.4 L74.9,294.5 L75.7,294.7 L76.5,294.2 L77.3,293.3 L78.1,292.0 L79.0,290.6 L79.8,289.2 L80.6,287.6 L81.4,285.8 L82.3,283.9 L83.2,282.1 L84.1,280.4 L84.9,279.0 L85.8,277.5 L86.7,276.1 L87.6,274.7 L88.5,273.5 L89.4,272.5 L90.3,271.8 L91.2,271.5 L92.1,271.4 L93.1,271.6 L94.0,272.0 L94.8,272.4 L95.7,272.8 L96.4,273.2 L97.4,273.9 L98.3,274.7 L99.1,275.6 L100.0,276.3 L100.8,276.7 L101.5,277.0 L102.4,277.3 L103.3,277.6 L104.2,278.0 L105.1,278.4 L105.9,278.9 L106.8,279.6 L107.7,280.3 L108.7,281.1 L109.6,281.7 L110.5,282.2 L111.3,282.4 L112.2,282.3 L113.0,282.0 L113.9,281.4 L114.7,280.7 L115.5,280.0 L116.4,279.4 L117.2,278.8 L118.0,278.2 L118.8,277.5 L119.7,276.9 L120.6,276.2 L121.5,275.7 L122.5,275.3 L123.3,275.1 L124.1,274.9 L125.0,274.8 L125.9,274.7 L126.8,274.6 L127.7,274.6 L128.7,274.6 L129.7,274.7 L130.7,274.7 L131.5,274.8 L132.4,274.9 L133.3,275.0 L134.2,275.1 L135.1,275.3 L136.0,275.5 L137.0,275.7 L137.9,275.8 L138.9,276.0 L139.9,276.2 L140.9,276.3 L141.8,276.4 L142.7,276.5 L143.6,276.6 L144.5,276.6 L145.5,276.7 L146.5,276.8 L147.4,276.9 L148.4,276.9 L149.4,277.0 L150.4,277.1 L151.3,277.1 L152.3,277.2 L153.2,277.3 L154.2,277.4 L155.2,277.5 L156.2,277.6 L157.2,277.7 L158.2,277.9 L159.2,278.0 L160.2,278.1 L161.2,278.2 L162.2,278.3 L163.1,278.3 L164.1,278.4 L165.0,278.4 L166.0,278.4 L167.0,278.4 L168.0,278.3 L168.9,278.2 L169.9,278.1 L170.8,278.0 L171.7,277.9 L172.6,277.8 L173.5,277.6 L174.4,277.5 L175.2,277.3 L176.2,277.1 L177.2,276.8 L178.2,276.5 L179.1,276.2 L180.0,275.9 L180.9,275.6 L181.8,275.3 L182.6,275.0 L183.4,274.7 L184.4,274.3 L185.4,273.9 L186.3,273.5 L187.2,273.2 L188.0,272.8 L188.8,272.5 L189.6,272.2 L190.6,271.9 L191.4,271.8 L192.2,271.7 L192.9,271.5 L193.7,271.2 L194.5,270.7 L195.2,269.9 L196.0,269.1 L196.8,268.6 L197.7,268.5 L198.5,268.9 L199.3,269.6 L200.2,270.6 L201.1,271.6 L202.0,272.5 L202.9,273.2 L203.7,273.6 L204.5,274.0 L205.3,274.3 L206.1,274.5 L207.0,274.6 L208.0,274.7 L209.0,274.7 L209.8,274.6 L210.7,274.4 L211.6,274.2 L212.6,273.9 L213.6,273.6 L214.6,273.3 L215.6,273.0 L216.5,272.8 L217.4,272.7 L218.2,272.6 L219.2,272.7 L220.1,273.0 L220.8,273.4 L221.6,273.8 L222.4,274.2 L223.3,274.5 L224.4,274.7 L225.2,274.7 L226.1,274.7 L227.0,274.7 L228.0,274.6 L229.0,274.5 L230.0,274.4 L231.0,274.3 L232.1,274.2 L233.1,274.1 L234.1,274.0 L235.0,273.9 L236.0,273.8 L237.1,273.7 L238.1,273.6 L239.1,273.5 L240.1,273.4 L241.1,273.3 L242.1,273.3 L243.0,273.3 L243.9,273.3 L244.7,273.4 L245.9,273.8 L246.9,274.5 L247.9,275.3 L248.8,276.1 L249.6,276.6 L250.5,276.7 L251.4,276.3 L252.3,275.4 L253.1,274.3 L254.0,273.2 L254.8,272.3 L255.6,271.8 L256.4,271.8 L257.1,272.2 L257.9,272.8 L258.8,273.4 L260.0,273.8 L260.6,273.9 L261.2,274.0 L261.9,274.0 L262.5,274.0 L263.2,274.1 L264.0,274.1 L264.9,274.1 L265.9,274.1 L267.1,274.0 L268.4,274.0 L270.0,274.0 L270.7,274.0 L271.4,274.0 L272.2,274.0 L273.0,273.9 L273.9,273.9 L274.8,273.9 L275.7,273.9 L276.7,273.9 L277.7,273.8 L278.7,273.8 L279.8,273.8 L280.8,273.8 L281.9,273.7 L282.9,273.7 L284.0,273.7 L285.1,273.6 L286.2,273.6 L287.3,273.6 L288.3,273.6 L289.4,273.5 L290.4,273.5 L291.4,273.5 L292.4,273.5 L293.4,273.5 L294.4,273.4 L295.3,273.4 L296.2,273.4 L297.0,273.4 L298.2,273.4 L299.3,273.4 L300.5,273.4 L301.6,273.4 L302.8,273.4 L303.9,273.4 L305.0,273.4 L306.1,273.4 L307.2,273.4 L308.2,273.5 L309.2,273.5 L310.2,273.5 L311.1,273.5 L311.9,273.5 L312.8,273.5 L313.5,273.6 L314.3,273.6 L314.9,273.6 L315.5,273.6 L316.0,273.6" fill="none" stroke="#ff7f0e" stroke-width="1.05" stroke-linejoin="round" />
<path d="M37.5,271.2 L37.7,272.8 L38.0,274.9 L38.5,277.6 L39.1,280.1 L39.6,282.1 L40.2,283.4 L40.9,285.5 L41.7,286.9 L42.4,288.3 L43.2,289.4 L43.9,290.8 L44.6,291.5 L45.3,292.5 L46.0,293.2 L46.7,293.7 L47.5,294.0 L48.3,294.7 L49.0,294.8 L49.8,294.6 L50.5,294.4 L51.3,293.4 L52.1,292.9 L52.8,292.4 L53.6,291.3 L54.4,290.5 L55.2,290.0 L55.9,288.6 L56.7,287.5 L57.5,285.8 L58.3,284.7 L59.1,283.3 L59.8,282.2 L60.6,281.3 L61.4,280.9 L62.2,280.4 L62.9,279.9 L63.7,279.6 L64.5,279.2 L65.2,279.1 L66.0,278.6 L66.7,278.4 L67.5,278.2 L68.2,277.9 L68.8,277.5 L69.5,277.3 L70.2,277.4 L71.0,277.0 L71.8,277.0 L72.4,276.6 L73.1,276.6 L73.8,276.2 L74.5,275.8 L75.3,275.0 L76.0,274.2 L76.8,273.9 L77.5,273.6 L78.3,273.4 L79.0,272.6 L79.7,271.9 L80.4,271.8 L81.1,271.3 L81.8,270.6 L82.5,270.2 L83.2,269.3 L84.0,268.9 L84.7,268.7 L85.4,268.4 L86.2,267.9 L86.9,267.7 L87.7,268.1 L88.4,268.5 L89.2,268.4 L90.0,268.4 L90.8,268.6 L91.6,269.4 L92.4,269.7 L93.1,270.0 L93.8,270.7 L94.4,270.8 L95.3,270.9 L96.1,271.5 L96.8,271.4 L97.4,271.8 L98.1,272.4 L98.8,272.3 L99.5,272.2 L100.3,272.3 L101.1,272.0 L102.0,272.0 L102.8,271.2 L103.7,271.0 L104.4,270.5 L105.1,270.4 L106.0,269.8 L106.7,269.5 L107.3,269.1 L108.2,268.9 L108.8,269.1 L109.5,269.6 L110.1,269.7 L110.9,269.9 L111.6,270.3 L112.4,270.5 L113.3,270.9 L113.9,271.3 L114.6,271.7 L115.3,272.0 L116.1,272.1 L116.8,272.1 L117.6,272.2 L118.4,272.6 L119.1,272.9 L119.8,273.4 L120.5,273.7 L121.3,274.4 L122.1,274.8 L122.8,275.4 L123.5,275.9 L124.2,276.3 L125.0,276.6 L125.7,276.8 L126.6,276.9 L127.3,277.5 L127.9,277.7 L128.6,277.7 L129.3,278.3 L130.1,278.4 L130.8,278.6 L131.6,278.6 L132.4,278.4 L133.2,279.0 L134.0,278.7 L134.8,278.6 L135.5,279.1 L136.3,278.6 L137.1,278.6 L137.9,278.5 L138.7,278.2 L139.5,278.5 L140.3,278.2 L141.1,277.7 L141.9,277.6 L142.7,277.2 L143.5,277.5 L144.3,277.6 L145.0,277.7 L145.8,277.1 L146.6,277.1 L147.4,276.8 L148.1,276.8 L148.9,276.6 L149.6,276.4 L150.3,276.2 L151.0,276.4 L151.7,276.1 L152.5,276.5 L153.2,276.1 L153.9,276.5 L154.6,276.2 L155.3,275.9 L156.0,276.3 L156.7,276.3 L157.4,276.5 L158.2,276.5 L158.9,276.6 L159.7,276.3 L160.5,276.6 L161.4,276.7 L162.1,277.1 L162.8,276.7 L163.6,276.7 L164.4,277.2 L165.3,277.7 L166.1,277.7 L167.0,278.0 L167.9,278.1 L168.7,278.1 L169.6,278.3 L170.4,278.5 L171.1,278.3 L171.9,278.4 L172.6,278.8 L173.2,278.6 L174.2,278.7 L175.2,278.5 L176.0,278.4 L176.7,278.4 L177.4,278.4 L178.0,278.3 L178.7,277.8 L179.3,277.2 L180.1,276.6 L180.7,275.8 L181.3,275.2 L182.0,274.8 L182.6,274.1 L183.4,273.0 L184.1,272.1 L184.8,271.2 L185.6,270.3 L186.4,269.6 L187.2,268.5 L188.0,268.0 L188.8,267.1 L189.6,266.0 L190.4,265.2 L191.1,264.1 L191.8,263.6 L192.6,263.0 L193.3,262.0 L194.1,261.5 L194.9,260.5 L195.7,259.7 L196.4,259.1 L197.0,258.5 L197.7,258.4 L198.4,258.1 L199.1,257.8 L199.8,257.0 L200.6,256.9 L201.3,256.4 L202.1,255.8 L202.9,255.4 L203.6,254.9 L204.3,254.3 L205.0,253.9 L205.8,253.6 L206.5,253.3 L207.3,253.1 L208.1,252.2 L208.9,252.0 L209.7,251.6 L210.5,251.1 L211.3,250.7 L212.1,249.7 L212.9,249.4 L213.6,249.0 L214.4,248.0 L215.2,247.5 L216.1,247.2 L216.9,246.3 L217.7,245.9 L218.5,245.4 L219.3,244.6 L220.1,243.7 L220.9,243.1 L221.6,243.0 L222.3,242.5 L223.2,241.9 L224.0,241.6 L224.8,241.6 L225.6,241.1 L226.4,240.6 L227.2,240.8 L227.9,240.4 L228.6,240.1 L229.3,240.2 L230.0,239.5 L230.8,238.6 L231.6,238.3 L232.4,237.3 L233.1,236.4 L233.9,236.0 L234.6,234.9 L235.3,234.6 L236.1,233.7 L236.9,233.0 L237.6,232.4 L238.4,232.2 L239.2,231.9 L240.0,231.5 L240.8,231.2 L241.5,230.6 L242.3,230.5 L243.1,230.1 L243.8,229.4 L244.5,228.6 L245.2,227.4 L246.0,226.5 L246.7,225.8 L247.5,225.3 L248.4,225.6 L249.1,225.9 L249.7,226.1 L250.4,226.2 L251.1,226.2 L251.9,226.6 L252.6,226.8 L253.4,227.8 L254.2,228.0 L255.0,228.3 L255.8,229.1 L256.6,229.1 L257.3,229.6 L258.0,229.5 L258.8,229.8 L259.5,229.6 L260.3,230.1 L261.1,230.0 L261.8,230.0 L262.6,230.3 L263.4,230.4 L264.3,230.3 L265.1,230.2 L265.9,230.5 L266.8,230.3 L267.5,230.9 L268.3,230.8 L269.0,230.7 L269.8,230.9 L270.6,230.8 L271.3,231.0 L272.1,231.3 L272.9,231.4 L273.7,231.5 L274.5,231.5 L275.3,231.7 L276.1,232.1 L276.9,232.1 L277.6,232.3 L278.4,232.3 L279.1,232.1 L280.0,232.1 L280.8,232.6 L281.7,232.6 L282.5,232.6 L283.3,232.7 L284.1,233.0 L284.9,232.9 L285.7,232.9 L286.5,232.9 L287.2,232.7 L288.0,233.0 L288.7,233.1 L289.4,233.2 L290.2,233.3 L290.9,233.4 L291.5,233.7 L292.1,233.5 L292.6,234.1 L293.2,233.8 L293.9,234.2 L294.6,234.0 L295.4,234.4 L296.4,234.2 L297.5,234.1 L298.1,234.3 L298.7,234.6 L299.4,234.8 L300.2,235.0 L301.0,235.1 L301.8,234.6 L302.7,234.6 L303.6,234.4 L304.5,234.8 L305.4,234.8 L306.3,235.0 L307.3,235.2 L308.2,235.4 L309.1,235.3 L310.0,235.4 L310.8,235.3 L311.6,234.9 L312.4,235.3 L313.2,234.9 L313.9,234.7 L314.5,235.2 L315.1,235.0 L315.6,235.2 L316.0,234.9" fill="none" stroke="#2ca02c" stroke-width="1.05" stroke-linejoin="round" />
<path d="M37.0,266.1 L106.1,266.1 L106.1,256.2 L176.3,263.0 L177.3,267.1 L246.4,234.4 L246.4,241.1 L316.0,241.1" fill="none" stroke="#2ca02c" stroke-width="1.05" stroke-dasharray="3,1.6" stroke-linejoin="round" />
<circle cx="37.5" cy="228.2" r="2.0" fill="#1f77b4"/>
<circle cx="68.2" cy="259.9" r="2.0" fill="#1f77b4"/>
<circle cx="115.3" cy="261.4" r="2.0" fill="#1f77b4"/>
<circle cx="165.5" cy="260.3" r="2.0" fill="#1f77b4"/>
<circle cx="210.4" cy="273.2" r="2.0" fill="#1f77b4"/>
<circle cx="264.4" cy="273.9" r="2.0" fill="#1f77b4"/>
<path d="M35.2,274.7 L39.8,274.7 L37.5,278.6Z" fill="#ff7f0e"/>
<path d="M65.4,272.7 L70.0,272.7 L67.7,276.6Z" fill="#ff7f0e"/>
<path d="M94.1,271.6 L98.7,271.6 L96.4,275.5Z" fill="#ff7f0e"/>
<path d="M191.4,269.6 L196.0,269.6 L193.7,273.5Z" fill="#ff7f0e"/>
<path d="M242.4,271.6 L247.0,271.6 L244.7,275.5Z" fill="#ff7f0e"/>
<path d="M294.7,271.7 L299.3,271.7 L297.0,275.6Z" fill="#ff7f0e"/>
<path d="M35.2,272.8 L39.8,272.8 L37.5,268.9Z" fill="#2ca02c"/>
<path d="M64.4,280.0 L69.0,280.0 L66.7,276.1Z" fill="#2ca02c"/>
<path d="M111.0,272.8 L115.6,272.8 L113.3,268.9Z" fill="#2ca02c"/>
<path d="M142.7,278.9 L147.3,278.9 L145.0,275.0Z" fill="#2ca02c"/>
<path d="M159.1,278.3 L163.7,278.3 L161.4,274.4Z" fill="#2ca02c"/>
<path d="M200.6,257.0 L205.2,257.0 L202.9,253.1Z" fill="#2ca02c"/>
<path d="M246.1,227.1 L250.7,227.1 L248.4,223.2Z" fill="#2ca02c"/>
<path d="M295.2,236.0 L299.8,236.0 L297.5,232.1Z" fill="#2ca02c"/>
<path d="M35.9,264.5 L39.1,267.7 M35.9,267.7 L39.1,264.5" stroke="#2ca02c" stroke-width="0.8" fill="none"/>
<path d="M92.8,264.5 L96.0,267.7 M92.8,267.7 L96.0,264.5" stroke="#2ca02c" stroke-width="0.8" fill="none"/>
<path d="M140.4,260.4 L143.6,263.6 M140.4,263.6 L143.6,260.4" stroke="#2ca02c" stroke-width="0.8" fill="none"/>
<path d="M192.1,256.7 L195.3,259.9 M192.1,259.9 L195.3,256.7" stroke="#2ca02c" stroke-width="0.8" fill="none"/>
<path d="M244.8,232.8 L248.0,236.0 M244.8,236.0 L248.0,232.8" stroke="#2ca02c" stroke-width="0.8" fill="none"/>
<path d="M295.4,239.5 L298.6,242.7 M295.4,242.7 L298.6,239.5" stroke="#2ca02c" stroke-width="0.8" fill="none"/>
<circle cx="37.5" cy="266.1" r="1.3" fill="#2ca02c"/>
<rect x="278.0" y="225.3" width="35.4" height="34.7" rx="1.6" fill="#fff" fill-opacity="0.8" stroke="#d6d6d6" stroke-width="0.8"/>
<path d="M280.1,231.2 L295.7,231.2" fill="none" stroke="#1f77b4" stroke-width="1.05" stroke-linejoin="round" />
<circle cx="287.9" cy="231.2" r="2.0" fill="#1f77b4"/>
<path d="M280.1,241.7 L295.7,241.7" fill="none" stroke="#ff7f0e" stroke-width="1.05" stroke-linejoin="round" />
<path d="M285.6,240.1 L290.2,240.1 L287.9,244.0Z" fill="#ff7f0e"/>
<path d="M280.1,252.7 L295.7,252.7" fill="none" stroke="#2ca02c" stroke-width="1.05" stroke-linejoin="round" />
<path d="M285.6,254.3 L290.2,254.3 L287.9,250.4Z" fill="#2ca02c"/>
<text x="300.3" y="234.0" font-size="8.0" fill="#262626" font-family="Liberation Sans" font-style="italic">α</text>
<text x="300.5" y="244.3" font-size="8.0" fill="#262626" font-family="Liberation Sans" font-style="italic">β</text>
<text x="301.3" y="255.3" font-size="8.3" fill="#262626" font-family="Liberation Sans" font-style="italic">V</text>
<text x="306.3" y="257.0" font-size="5.8" fill="#262626" font-family="Liberation Sans" font-style="italic">a</text>
</g>
<clipPath id="c4"><rect x="37" y="325.8" width="279.3" height="77.2"/></clipPath><g clip-path="url(#c4)">
<path d="M37.1,334.1 L37.6,334.4 L38.3,333.2 L39.2,333.1 L40.3,333.6 L40.9,332.8 L41.5,333.1 L42.2,333.3 L43.0,333.2 L43.7,333.4 L44.5,333.3 L45.3,332.2 L46.1,331.8 L46.8,332.2 L47.5,333.0 L48.2,332.2 L48.9,332.4 L49.7,331.7 L50.4,332.4 L51.1,332.1 L51.8,332.1 L52.6,332.3 L53.4,331.6 L54.1,332.2 L54.9,332.6 L55.7,332.9 L56.5,332.2 L57.3,331.8 L58.1,331.5 L58.9,332.5 L59.7,332.4 L60.5,332.3 L61.3,332.5 L62.1,332.9 L62.9,332.6 L63.7,332.5 L64.5,333.2 L65.3,333.7 L66.1,333.2 L66.9,332.7 L67.7,333.9 L68.4,334.2 L69.2,334.2 L70.0,334.0 L70.7,334.7 L71.5,334.3 L72.2,333.8 L73.0,333.4 L73.7,333.6 L74.4,334.2 L75.1,334.1 L75.9,335.1 L76.6,335.1 L77.4,334.9 L78.2,335.2 L79.0,335.3 L79.8,335.4 L80.6,335.3 L81.4,335.4 L82.2,335.5 L82.9,336.1 L83.7,335.5 L84.5,336.2 L85.2,335.9 L85.9,336.8 L86.7,336.0 L87.4,336.4 L88.1,336.7 L88.8,337.3 L89.6,336.8 L90.3,336.7 L91.0,336.5 L91.7,337.0 L92.5,337.2 L93.2,336.3 L93.9,336.1 L94.6,336.0 L95.4,337.1 L96.1,337.0 L96.8,337.1 L97.5,336.9 L98.3,337.6 L99.0,338.5 L99.8,338.9 L100.6,338.2 L101.3,338.8 L102.0,339.3 L102.7,338.9 L103.4,340.0 L104.2,339.6 L105.0,339.3 L105.7,339.5 L106.4,339.4 L107.1,339.0 L107.9,339.2 L108.7,338.6 L109.4,338.0 L110.1,337.1 L110.9,337.4 L111.6,337.1 L112.4,337.1 L113.2,336.7 L113.9,335.8 L114.6,335.4 L115.3,335.3 L116.2,335.2 L116.9,336.4 L117.6,336.6 L118.3,336.2 L119.1,336.7 L120.0,336.8 L120.6,335.9 L121.3,336.5 L122.1,335.9 L122.8,336.7 L123.6,335.7 L124.4,335.4 L125.2,335.1 L126.1,335.8 L127.0,336.0 L127.9,335.6 L128.6,334.7 L129.3,334.6 L130.0,334.9 L130.7,333.9 L131.5,334.6 L132.2,334.8 L133.0,334.9 L133.8,334.5 L134.5,334.1 L135.3,334.4 L136.1,333.4 L136.9,332.9 L137.6,332.4 L138.4,332.2 L139.2,333.2 L139.9,332.7 L140.7,333.6 L141.4,333.7 L142.2,334.6 L143.0,335.1 L143.7,335.4 L144.5,336.0 L145.3,335.1 L146.0,335.2 L146.7,335.5 L147.5,335.9 L148.2,336.5 L148.9,337.2 L149.7,337.3 L150.5,337.6 L151.3,337.3 L152.0,336.6 L152.8,336.4 L153.5,336.6 L154.3,336.7 L155.0,335.9 L155.7,335.4 L156.5,335.5 L157.2,334.8 L158.0,335.4 L158.8,334.2 L159.5,334.5 L160.3,334.3 L161.0,333.6 L161.7,333.7 L162.5,333.4 L163.2,334.0 L164.0,334.0 L164.8,333.5 L165.6,333.6 L166.5,333.6 L167.4,332.5 L168.1,333.0 L168.8,333.3 L169.5,333.7 L170.2,333.6 L170.9,333.0 L171.6,332.5 L172.4,333.0 L173.1,332.6 L173.9,333.4 L174.7,333.5 L175.5,334.1 L176.3,333.6 L177.2,333.4 L178.1,334.3 L179.0,334.4 L180.0,334.1 L180.7,334.2 L181.4,334.1 L182.1,334.4 L182.9,334.3 L183.7,334.0 L184.6,334.9 L185.4,335.3 L186.3,335.3 L187.2,334.6 L188.1,334.1 L189.0,334.7 L189.9,335.2 L190.7,335.2 L191.6,334.5 L192.5,335.0 L193.3,335.0 L194.1,334.7 L194.9,335.0 L195.7,334.9 L196.4,335.2 L197.1,335.6 L197.8,336.1 L198.4,335.0 L198.9,335.3 L200.2,336.1 L201.2,336.2 L201.9,336.2 L202.5,336.8 L203.0,335.8 L203.5,336.6 L204.1,336.8 L205.0,336.8 L205.6,336.3 L206.3,336.6 L207.0,335.8 L207.8,336.1 L208.5,335.7 L209.3,336.5 L210.1,336.7 L211.0,336.2 L211.8,336.3 L212.6,335.7 L213.3,335.6 L214.1,334.9 L214.8,335.6 L215.5,335.8 L216.4,335.8 L217.2,334.7 L218.0,335.2 L218.7,334.1 L219.5,334.4 L220.2,334.4 L221.0,333.7 L221.7,333.9 L222.5,334.7 L223.4,334.8 L224.1,334.3 L224.8,335.0 L225.6,334.6 L226.4,335.4 L227.2,335.0 L228.0,334.4 L228.8,335.6 L229.6,334.8 L230.4,334.8 L231.2,335.7 L231.9,335.2 L232.7,335.7 L233.4,336.5 L234.2,336.5 L235.0,336.2 L235.7,336.7 L236.5,337.2 L237.2,337.1 L237.9,337.1 L238.7,336.7 L239.4,336.7 L240.2,337.7 L241.0,338.3 L241.8,337.1 L242.5,336.8 L243.2,336.8 L244.0,337.8 L244.7,337.5 L245.5,337.3 L246.3,338.3 L247.1,337.9 L247.8,339.1 L248.6,338.9 L249.4,339.6 L250.2,339.9 L250.9,339.0 L251.7,339.5 L252.4,339.2 L253.2,338.6 L254.0,337.9 L254.7,338.5 L255.4,338.4 L256.2,337.8 L256.9,338.2 L257.6,337.2 L258.3,336.9 L259.1,336.1 L259.9,336.1 L260.7,336.9 L261.6,336.7 L262.3,336.0 L263.0,335.9 L263.8,336.6 L264.6,336.4 L265.4,337.4 L266.3,336.6 L267.1,337.7 L268.0,337.9 L268.8,338.4 L269.7,338.0 L270.5,337.5 L271.3,337.5 L272.1,338.3 L272.9,337.7 L273.7,337.7 L274.4,338.7 L275.2,339.4 L276.1,339.7 L276.8,339.8 L277.6,339.4 L278.3,339.7 L279.0,339.5 L279.8,339.1 L280.5,338.7 L281.2,337.8 L281.9,337.4 L282.6,337.4 L283.3,337.8 L284.0,337.4 L284.7,338.6 L285.5,338.6 L286.2,338.9 L286.9,339.3 L287.6,338.5 L288.3,339.1 L289.0,339.6 L289.7,338.8 L290.5,338.2 L291.2,339.0 L292.0,339.5 L292.8,339.6 L293.6,339.1 L294.3,339.1 L295.0,338.3 L295.7,338.1 L296.5,338.2 L297.3,338.8 L298.1,338.0 L298.8,338.9 L299.6,337.9 L300.4,338.8 L301.2,338.1 L302.0,338.7 L302.7,339.0 L303.5,339.3 L304.2,338.7 L304.9,338.8 L305.6,338.3 L306.5,338.9 L307.4,338.2 L308.3,339.2 L309.2,339.3 L310.1,338.7 L310.9,339.9 L311.7,339.7 L312.4,339.2 L313.1,339.5 L313.7,339.3 L314.3,339.7 L314.7,340.6" fill="none" stroke="#1f77b4" stroke-width="1.05" stroke-linejoin="round" />
<path d="M37.1,375.4 L37.5,376.3 L38.1,378.0 L38.9,378.7 L39.4,378.4 L40.0,377.3 L40.7,376.1 L41.4,375.0 L42.1,374.8 L42.9,374.0 L43.6,374.4 L44.3,373.9 L45.0,374.1 L45.8,374.1 L46.6,374.2 L47.4,373.6 L48.2,373.5 L48.9,374.2 L49.6,373.9 L50.3,374.6 L51.0,375.5 L51.7,375.2 L52.5,376.1 L53.2,376.1 L54.0,376.7 L54.7,376.4 L55.4,376.8 L56.2,376.9 L56.9,376.3 L57.6,376.6 L58.4,376.9 L59.1,377.0 L59.8,377.4 L60.6,378.0 L61.3,378.2 L62.0,378.3 L62.8,377.2 L63.5,377.6 L64.3,377.6 L65.1,378.1 L65.8,376.7 L66.5,376.3 L67.2,377.3 L67.9,376.7 L68.7,376.8 L69.5,376.4 L70.2,375.7 L70.9,375.2 L71.6,375.0 L72.4,375.5 L73.2,375.1 L73.9,375.3 L74.5,374.7 L75.2,375.1 L75.9,375.2 L76.6,375.6 L77.4,376.1 L78.1,375.2 L78.9,376.3 L79.7,376.4 L80.4,376.0 L81.2,376.3 L82.0,376.0 L82.8,376.3 L83.6,377.6 L84.4,378.2 L85.2,378.8 L86.0,378.1 L86.8,377.8 L87.6,378.1 L88.4,378.4 L89.1,378.8 L89.9,378.3 L90.6,378.6 L91.4,378.5 L92.1,377.8 L92.9,378.2 L93.7,377.1 L94.6,377.3 L95.5,376.7 L96.2,376.2 L96.9,376.6 L97.7,376.8 L98.5,377.1 L99.3,376.8 L100.1,377.5 L100.9,377.6 L101.8,376.6 L102.6,375.8 L103.3,376.9 L104.1,376.5 L104.8,375.7 L105.5,375.3 L106.1,375.8 L107.0,374.8 L107.8,374.2 L108.5,374.0 L109.1,372.9 L109.8,372.4 L110.4,372.4 L111.0,371.9 L111.8,371.3 L112.5,371.1 L113.2,370.6 L113.9,371.0 L114.7,371.4 L115.5,371.6 L116.3,371.7 L117.0,372.4 L117.8,371.9 L118.5,372.6 L119.2,373.4 L120.0,372.2 L120.8,371.9 L121.5,372.9 L122.2,371.9 L122.9,372.5 L123.6,372.3 L124.3,371.4 L125.0,371.9 L125.8,371.3 L126.5,372.3 L127.2,372.1 L127.9,373.1 L128.7,373.6 L129.5,372.9 L130.5,373.1 L131.1,372.9 L131.8,373.9 L132.6,373.6 L133.4,373.5 L134.2,373.8 L135.0,375.3 L135.9,375.3 L136.7,375.5 L137.5,376.0 L138.3,376.4 L139.0,376.5 L139.7,377.3 L140.5,376.7 L141.3,376.4 L141.9,376.7 L142.6,375.6 L143.2,374.6 L143.9,375.0 L144.6,374.0 L145.4,374.3 L146.3,374.1 L146.9,373.2 L147.5,372.6 L148.1,371.7 L148.8,372.4 L149.4,371.8 L150.1,371.3 L150.8,370.5 L151.5,370.1 L152.3,370.8 L153.1,369.8 L154.0,369.9 L154.8,369.9 L155.8,369.7 L156.8,369.5 L157.4,369.2 L158.1,368.7 L158.8,369.4 L159.5,369.8 L160.3,369.5 L161.1,368.8 L161.9,369.5 L162.7,368.6 L163.5,368.2 L164.3,368.6 L165.2,369.2 L166.1,369.0 L166.9,368.2 L167.8,369.2 L168.6,368.4 L169.4,368.2 L170.2,369.2 L171.1,369.4 L171.8,369.4 L172.6,368.4 L173.3,369.1 L174.0,368.8 L174.7,368.0 L175.3,368.9 L176.3,369.6 L177.2,368.7 L178.0,369.0 L178.8,370.0 L179.5,369.7 L180.2,369.7 L180.9,370.5 L181.5,370.6 L182.2,371.6 L182.8,372.0 L183.5,372.2 L184.2,372.2 L185.0,371.4 L185.8,371.8 L186.5,371.8 L187.3,371.6 L188.0,371.6 L188.9,371.1 L189.7,370.6 L190.5,371.4 L191.4,370.9 L192.2,370.1 L193.0,371.0 L193.9,370.6 L194.7,370.6 L195.5,370.0 L196.2,369.3 L197.0,369.2 L197.7,369.9 L198.3,369.3 L198.9,369.9 L200.0,369.2 L200.9,369.8 L201.6,368.9 L202.3,368.9 L202.9,368.4 L203.5,368.1 L204.2,368.5 L205.0,368.4 L205.7,368.5 L206.4,367.9 L207.2,367.6 L207.9,367.3 L208.7,368.0 L209.5,366.9 L210.3,366.7 L211.1,367.3 L212.0,367.1 L212.9,366.5 L213.6,367.4 L214.3,366.5 L215.0,366.1 L215.7,365.8 L216.5,366.4 L217.3,367.5 L218.1,367.2 L218.9,367.1 L219.6,368.0 L220.4,367.3 L221.2,367.0 L221.9,367.8 L222.7,367.3 L223.4,367.7 L224.2,367.3 L225.0,367.6 L225.9,368.0 L226.7,367.4 L227.5,366.6 L228.2,366.6 L229.0,366.6 L229.8,365.4 L230.5,365.0 L231.2,365.0 L231.9,365.1 L232.6,364.9 L233.4,365.6 L234.2,365.5 L235.0,366.7 L235.7,366.8 L236.4,366.9 L237.1,367.0 L237.8,367.4 L238.5,368.0 L239.2,369.5 L239.9,369.7 L240.6,370.0 L241.2,371.2 L241.8,372.0 L242.5,372.2 L243.2,371.6 L244.0,371.5 L244.8,371.8 L245.8,371.6 L246.4,371.5 L247.1,371.2 L247.8,371.1 L248.6,371.8 L249.3,371.8 L250.1,371.4 L250.9,371.2 L251.8,371.2 L252.6,371.2 L253.5,370.1 L254.3,370.7 L255.1,370.4 L256.0,369.9 L256.8,370.6 L257.6,370.6 L258.3,370.0 L259.1,369.1 L259.9,369.3 L260.6,369.4 L261.4,369.3 L262.2,368.8 L263.0,369.3 L263.7,369.1 L264.5,369.8 L265.3,369.7 L266.0,369.3 L266.8,370.0 L267.5,369.7 L268.2,368.9 L268.9,368.9 L269.6,368.5 L270.5,368.8 L271.4,369.7 L272.3,370.1 L273.2,369.8 L274.1,368.8 L274.9,368.4 L275.7,368.1 L276.5,368.2 L277.3,368.7 L278.0,367.9 L278.6,368.3 L279.2,368.5 L280.2,369.3 L280.8,370.4 L281.3,370.7 L281.9,371.5 L282.8,371.6 L283.4,371.9 L284.1,372.4 L284.8,371.8 L285.6,372.3 L286.4,372.5 L287.2,372.2 L288.0,372.2 L288.9,373.2 L289.7,373.1 L290.5,372.8 L291.2,373.0 L292.1,373.6 L292.9,374.0 L293.7,374.3 L294.5,374.7 L295.3,374.9 L296.0,375.6 L296.8,376.3 L297.6,375.9 L298.4,376.5 L299.1,376.3 L299.8,377.2 L300.5,377.4 L301.2,376.1 L301.8,376.2 L302.5,375.5 L303.3,374.7 L304.0,375.5 L304.8,375.9 L305.6,376.1 L306.3,376.0 L307.2,376.7 L308.1,376.5 L309.0,376.8 L309.9,377.2 L310.9,377.9 L311.8,378.5 L312.6,378.1 L313.4,377.9 L314.1,378.5 L314.7,379.0 L315.2,378.9" fill="none" stroke="#ff7f0e" stroke-width="1.05" stroke-linejoin="round" />
<path d="M37.1,396.8 L37.6,396.0 L38.4,394.4 L39.3,392.6 L40.3,391.5 L40.9,390.3 L41.6,390.5 L42.2,389.4 L43.0,390.0 L43.8,389.8 L44.6,389.1 L45.5,388.5 L46.2,388.9 L46.9,389.0 L47.7,389.4 L48.5,388.7 L49.4,389.7 L50.2,389.5 L51.0,389.5 L51.9,390.1 L52.7,390.2 L53.4,390.0 L54.2,389.7 L55.0,389.8 L55.8,389.1 L56.6,389.1 L57.3,390.1 L58.0,389.4 L58.7,389.1 L59.4,390.3 L60.0,390.2 L60.9,391.0 L61.7,392.2 L62.4,393.5 L63.1,393.8 L63.9,394.8 L64.5,393.8 L65.1,394.5 L65.7,393.7 L66.3,393.5 L67.0,392.7 L67.8,392.9 L68.7,392.4 L69.3,392.6 L70.0,392.3 L70.7,393.1 L71.5,393.5 L72.3,392.8 L73.1,393.5 L73.9,394.2 L74.7,393.5 L75.6,393.1 L76.3,394.0 L77.1,394.6 L77.9,393.4 L78.7,393.8 L79.5,394.0 L80.4,393.0 L81.2,393.1 L82.0,392.3 L82.7,392.6 L83.5,392.2 L84.3,391.9 L85.0,391.1 L85.8,391.6 L86.6,391.9 L87.3,391.4 L88.0,390.8 L88.7,390.7 L89.4,390.9 L90.2,392.4 L90.9,392.8 L91.6,393.4 L92.3,393.7 L93.1,393.1 L93.9,393.6 L94.7,395.0 L95.5,395.8 L96.2,396.8 L96.9,397.2 L97.6,397.5 L98.2,397.9 L99.1,398.7 L99.8,398.6 L100.5,398.0 L101.2,398.2 L102.1,397.7 L102.7,397.8 L103.4,398.1 L104.1,397.6 L104.8,397.1 L105.5,396.3 L106.3,396.2 L107.1,396.2 L107.9,396.3 L108.7,396.9 L109.5,395.9 L110.3,395.7 L111.1,395.5 L112.0,396.9 L112.9,397.2 L113.7,397.5 L114.5,398.1 L115.3,397.1 L116.0,398.1 L116.6,397.7 L117.5,398.0 L118.1,397.7 L118.5,397.9 L119.1,397.2 L120.0,396.6 L120.6,396.2 L121.3,396.6 L122.1,396.3 L122.9,395.4 L123.8,395.2 L124.6,395.2 L125.5,394.8 L126.3,394.8 L127.1,395.1 L127.9,394.9 L128.7,395.0 L129.4,394.2 L130.1,394.7 L130.8,395.0 L131.5,394.5 L132.2,393.4 L132.9,393.0 L133.7,393.7 L134.5,394.2 L135.2,394.1 L135.9,393.6 L136.6,393.3 L137.3,392.3 L138.1,392.5 L138.9,393.1 L139.6,392.0 L140.4,392.0 L141.2,392.2 L142.1,391.9 L142.9,391.2 L143.7,390.6 L144.4,391.0 L145.1,391.5 L145.8,391.6 L146.6,390.9 L147.3,391.0 L148.0,391.2 L148.8,390.5 L149.5,390.8 L150.3,390.3 L151.1,389.7 L151.8,389.1 L152.6,389.9 L153.4,390.3 L154.2,389.3 L155.0,388.8 L155.8,389.0 L156.6,388.8 L157.4,389.5 L158.3,389.0 L159.1,389.3 L160.0,389.4 L160.8,389.0 L161.7,389.7 L162.5,389.3 L163.3,389.2 L164.0,389.4 L164.8,389.1 L165.5,388.6 L166.1,389.6 L167.1,389.8 L167.9,389.7 L168.6,389.6 L169.3,389.9 L169.9,389.7 L170.5,389.3 L171.2,390.1 L171.8,391.2 L172.6,390.6 L173.3,391.9 L174.1,391.9 L174.9,393.1 L175.7,393.7 L176.5,393.4 L177.3,393.5 L178.1,394.8 L178.9,395.7 L179.7,396.0 L180.5,395.8 L181.3,395.6 L182.0,395.7 L182.8,395.7 L183.5,395.6 L184.3,394.4 L185.1,394.5 L185.8,394.5 L186.7,393.8 L187.5,392.3 L188.4,391.8 L189.1,392.2 L189.8,391.9 L190.5,392.4 L191.3,392.0 L192.1,391.8 L192.9,390.7 L193.7,390.6 L194.4,390.7 L195.2,391.1 L196.0,391.1 L196.8,390.1 L197.5,389.9 L198.2,390.6 L198.9,389.6 L199.8,389.3 L200.6,389.6 L201.4,391.0 L202.2,391.4 L203.0,392.6 L203.7,393.7 L204.5,394.6 L205.2,394.1 L206.0,395.0 L206.8,395.7 L207.5,396.0 L208.2,396.3 L208.9,396.4 L209.6,396.0 L210.3,396.2 L211.0,395.7 L211.8,394.6 L212.6,394.3 L213.5,395.1 L214.4,394.5 L215.5,394.3 L216.1,394.9 L216.8,394.8 L217.5,394.9 L218.2,394.4 L219.0,394.1 L219.8,393.2 L220.6,392.9 L221.4,392.7 L222.3,393.1 L223.1,393.2 L224.0,392.5 L224.8,393.0 L225.7,392.3 L226.5,392.4 L227.4,391.9 L228.2,392.3 L229.0,392.0 L229.8,393.2 L230.6,392.9 L231.3,393.5 L232.1,393.3 L233.0,393.1 L233.8,394.0 L234.6,393.7 L235.5,394.2 L236.3,394.8 L237.1,395.8 L237.8,396.1 L238.6,395.4 L239.4,395.9 L240.1,397.1 L240.9,397.7 L241.6,397.3 L242.4,396.9 L243.1,397.0 L243.8,397.8 L244.5,397.3 L245.3,398.2 L246.2,397.5 L247.0,397.7 L247.7,397.7 L248.5,396.7 L249.3,396.5 L250.0,396.4 L250.7,395.6 L251.5,395.4 L252.2,395.3 L252.9,395.7 L253.6,394.7 L254.3,394.0 L255.0,394.2 L255.8,394.5 L256.6,394.5 L257.4,395.4 L258.2,394.9 L258.9,395.3 L259.7,395.6 L260.4,395.5 L261.2,396.0 L261.9,396.3 L262.7,396.5 L263.4,397.2 L264.2,397.9 L265.0,398.2 L265.8,397.1 L266.6,396.7 L267.4,397.3 L268.2,396.1 L269.0,395.4 L269.8,394.8 L270.5,395.8 L271.3,395.5 L272.0,395.0 L272.7,394.1 L273.4,394.7 L274.3,394.7 L275.1,393.8 L275.9,393.3 L276.6,392.0 L277.3,390.6 L278.0,389.4 L278.8,388.8 L279.7,388.3 L280.4,388.5 L281.1,388.2 L281.8,388.1 L282.6,389.7 L283.4,390.6 L284.2,391.2 L285.0,391.0 L285.8,391.3 L286.6,391.7 L287.3,392.6 L288.1,392.3 L288.8,392.7 L289.6,393.1 L290.4,393.9 L291.2,393.7 L292.0,393.1 L292.7,393.7 L293.5,394.8 L294.2,394.3 L295.0,394.9 L295.7,394.4 L296.5,394.4 L297.3,395.0 L298.1,394.4 L298.9,394.6 L299.7,394.8 L300.6,394.5 L301.4,394.9 L302.2,395.1 L302.9,394.2 L303.7,394.5 L304.4,394.5 L305.2,394.2 L306.1,393.9 L306.8,393.6 L307.6,393.6 L308.3,393.5 L309.0,392.7 L309.7,392.9 L310.4,393.1 L311.2,393.0 L312.0,393.9 L312.8,393.7 L313.5,394.2 L314.2,394.7 L314.8,395.1 L315.2,394.7" fill="none" stroke="#2ca02c" stroke-width="1.05" stroke-linejoin="round" />
<circle cx="37.1" cy="334.6" r="2.0" fill="#1f77b4"/>
<circle cx="76.6" cy="334.6" r="2.0" fill="#1f77b4"/>
<circle cx="115.3" cy="336.5" r="2.0" fill="#1f77b4"/>
<circle cx="233.4" cy="336.0" r="2.0" fill="#1f77b4"/>
<circle cx="273.9" cy="338.3" r="2.0" fill="#1f77b4"/>
<circle cx="314.7" cy="340.7" r="2.0" fill="#1f77b4"/>
<path d="M34.8,373.0 L39.4,373.0 L37.1,376.9Z" fill="#ff7f0e"/>
<path d="M70.9,373.0 L75.5,373.0 L73.2,376.9Z" fill="#ff7f0e"/>
<path d="M103.8,374.3 L108.4,374.3 L106.1,378.2Z" fill="#ff7f0e"/>
<path d="M137.4,375.1 L142.0,375.1 L139.7,379.0Z" fill="#ff7f0e"/>
<path d="M173.0,367.2 L177.6,367.2 L175.3,371.1Z" fill="#ff7f0e"/>
<path d="M210.6,365.1 L215.2,365.1 L212.9,369.0Z" fill="#ff7f0e"/>
<path d="M243.5,370.4 L248.1,370.4 L245.8,374.3Z" fill="#ff7f0e"/>
<path d="M280.5,370.3 L285.1,370.3 L282.8,374.2Z" fill="#ff7f0e"/>
<path d="M34.8,397.8 L39.4,397.8 L37.1,393.9Z" fill="#2ca02c"/>
<path d="M66.4,394.1 L71.0,394.1 L68.7,390.2Z" fill="#2ca02c"/>
<path d="M99.8,400.4 L104.4,400.4 L102.1,396.5Z" fill="#2ca02c"/>
<path d="M132.2,395.2 L136.8,395.2 L134.5,391.3Z" fill="#2ca02c"/>
<path d="M163.8,390.7 L168.4,390.7 L166.1,386.8Z" fill="#2ca02c"/>
<path d="M196.6,391.5 L201.2,391.5 L198.9,387.6Z" fill="#2ca02c"/>
<path d="M229.0,394.6 L233.6,394.6 L231.3,390.7Z" fill="#2ca02c"/>
<path d="M262.5,399.1 L267.1,399.1 L264.8,395.2Z" fill="#2ca02c"/>
<path d="M294.2,396.7 L298.8,396.7 L296.5,392.8Z" fill="#2ca02c"/>
<rect x="152.9" y="329.9" width="46.0" height="32.9" rx="1.6" fill="#fff" fill-opacity="0.8" stroke="#d6d6d6" stroke-width="0.8"/>
<path d="M155.5,335.2 L171.3,335.2" fill="none" stroke="#1f77b4" stroke-width="1.05" stroke-linejoin="round" />
<circle cx="163.4" cy="335.2" r="2.0" fill="#1f77b4"/>
<text x="176.6" y="337.9" font-size="7.8" fill="#262626" textLength="19.7" lengthAdjust="spacingAndGlyphs">North</text>
<path d="M155.5,346.2 L171.3,346.2" fill="none" stroke="#ff7f0e" stroke-width="1.05" stroke-linejoin="round" />
<path d="M161.1,344.6 L165.7,344.6 L163.4,348.5Z" fill="#ff7f0e"/>
<text x="176.6" y="348.9" font-size="7.8" fill="#262626" textLength="15.6" lengthAdjust="spacingAndGlyphs">East</text>
<path d="M155.5,356.2 L171.3,356.2" fill="none" stroke="#2ca02c" stroke-width="1.05" stroke-linejoin="round" />
<path d="M161.1,357.8 L165.7,357.8 L163.4,353.9Z" fill="#2ca02c"/>
<text x="176.6" y="358.9" font-size="7.8" fill="#262626" textLength="19.5" lengthAdjust="spacingAndGlyphs">Down</text>
</g>
<clipPath id="c5"><rect x="37" y="429.6" width="279.3" height="77.1"/></clipPath><g clip-path="url(#c5)">
<path d="M37.1,453.3 L37.2,451.3 L37.3,449.1 L37.6,447.0 L38.0,445.7 L38.6,444.7 L39.4,443.9 L40.0,443.2 L40.6,443.1 L41.3,442.7 L42.0,442.4 L42.9,441.9 L43.8,441.9 L44.5,441.4 L45.2,441.0 L46.1,440.7 L46.9,440.3 L47.8,439.9 L48.6,439.6 L49.4,439.5 L50.2,439.2 L50.8,439.3 L51.7,439.4 L52.4,439.6 L52.9,439.5 L53.5,439.8 L54.3,440.2 L55.0,440.6 L55.7,440.9 L56.4,441.2 L57.2,442.0 L58.0,442.6 L58.8,443.0 L59.6,443.6 L60.3,443.7 L61.1,444.4 L61.9,445.1 L62.8,445.7 L63.6,445.7 L64.3,446.1 L65.1,446.4 L65.7,446.1 L66.6,446.0 L67.3,445.2 L68.0,444.4 L68.6,443.3 L69.2,442.4 L70.0,441.1 L70.8,439.2 L71.5,437.5 L72.2,436.6 L73.0,436.2 L73.8,437.3 L74.5,438.6 L75.1,439.9 L75.6,441.2 L76.2,442.5 L76.8,443.7 L77.4,444.8 L78.1,445.8 L78.9,447.1 L79.5,448.0 L80.3,448.8 L81.0,449.5 L81.8,450.5 L82.6,451.2 L83.2,451.5 L84.0,450.9 L84.7,449.7 L85.3,448.3 L85.9,447.2 L86.5,447.5 L87.2,448.2 L87.8,448.7 L88.5,448.6 L89.2,448.0 L89.9,447.1 L90.7,445.9 L91.4,444.4 L92.0,443.5 L92.7,442.3 L93.5,441.7 L94.1,441.1 L94.8,440.4 L95.5,439.7 L96.3,438.4 L97.1,438.0 L97.9,437.3 L98.6,437.6 L99.4,437.9 L100.1,437.9 L100.9,438.2 L101.6,438.5 L102.3,439.3 L103.1,440.0 L103.8,440.8 L104.6,441.4 L105.3,441.7 L106.1,442.0 L106.8,441.7 L107.5,441.3 L108.3,440.9 L109.1,440.5 L109.9,439.9 L110.7,439.7 L111.5,439.6 L112.2,439.7 L113.0,439.6 L113.9,439.5 L114.7,439.5 L115.5,439.4 L116.3,439.3 L117.1,438.8 L117.8,438.3 L118.6,437.8 L119.4,437.5 L120.1,437.4 L120.9,437.0 L121.6,436.6 L122.3,436.4 L123.0,435.9 L123.6,435.1 L124.3,434.4 L125.1,434.0 L125.9,433.5 L126.8,433.4 L127.5,433.0 L128.2,433.0 L129.0,433.2 L129.8,433.1 L130.7,432.9 L131.5,433.3 L132.4,433.1 L133.2,433.5 L134.1,433.5 L134.9,433.7 L135.6,433.6 L136.5,433.4 L137.3,433.2 L138.1,432.9 L138.8,433.3 L139.6,433.0 L140.3,432.7 L141.1,433.1 L141.8,433.0 L142.6,433.1 L143.3,433.4 L144.1,433.5 L144.9,433.3 L145.7,433.4 L146.5,433.7 L147.3,434.0 L148.0,434.0 L148.7,434.0 L149.4,434.2 L150.0,434.1 L150.9,434.4 L151.5,434.3 L152.1,433.9 L152.8,433.9 L153.8,433.9 L154.4,433.8 L155.1,434.0 L155.8,434.4 L156.6,434.5 L157.4,434.8 L158.3,434.8 L159.1,435.3 L160.0,435.5 L160.8,435.6 L161.7,435.3 L162.5,435.4 L163.2,435.2 L164.0,435.4 L164.7,435.3 L165.5,435.2 L166.3,435.2 L167.0,435.0 L167.8,435.0 L168.5,435.1 L169.2,434.8 L169.9,434.9 L170.6,435.1 L171.3,435.0 L172.2,435.0 L173.0,434.4 L173.9,434.3 L174.7,433.9 L175.5,434.0 L176.3,433.7 L177.0,433.7 L177.7,433.7 L178.3,433.3 L179.2,433.3 L179.9,433.9 L180.4,434.5 L181.0,434.9 L181.8,435.3 L182.5,435.9 L183.2,437.0 L183.9,438.0 L184.7,438.9 L185.5,439.9 L186.3,441.1 L187.1,441.6 L187.9,442.9 L188.6,444.3 L189.4,445.5 L190.1,446.7 L190.9,447.5 L191.6,448.4 L192.4,448.6 L193.2,449.2 L194.0,449.2 L194.8,448.8 L195.6,448.2 L196.3,447.8 L197.0,447.7 L197.6,448.0 L198.4,448.3 L198.9,449.2 L199.4,449.7 L200.0,450.4 L200.6,451.1 L201.2,452.0 L201.9,453.3 L202.7,454.1 L203.5,454.8 L204.2,455.4 L204.9,455.9 L205.7,456.6 L206.4,457.0 L207.2,457.5 L208.0,457.5 L208.8,457.6 L209.5,457.6 L210.3,457.8 L211.0,457.7 L211.8,457.3 L212.5,457.0 L213.3,456.5 L214.0,456.8 L214.8,456.9 L215.6,457.0 L216.4,457.1 L217.1,457.5 L217.9,458.0 L218.6,458.1 L219.3,458.3 L220.0,458.8 L220.6,459.3 L221.2,459.5 L221.8,459.7 L222.8,459.9 L223.4,460.1 L224.1,459.9 L224.9,459.5 L225.7,459.3 L226.6,459.0 L227.5,459.1 L228.3,458.7 L229.2,458.9 L230.0,458.5 L230.7,458.3 L231.6,458.2 L232.4,458.5 L233.2,458.8 L233.9,459.3 L234.7,459.6 L235.4,459.9 L236.1,459.8 L236.8,460.3 L237.6,460.3 L238.4,460.3 L239.1,460.3 L239.9,460.7 L240.6,460.9 L241.3,460.9 L242.1,460.9 L242.9,460.8 L243.6,461.2 L244.4,461.5 L245.1,461.4 L245.9,461.4 L246.6,461.9 L247.4,462.1 L248.2,462.2 L249.0,463.0 L249.7,463.5 L250.5,464.0 L251.3,464.0 L252.0,464.3 L252.6,463.8 L253.4,462.4 L254.0,460.2 L254.6,457.6 L255.2,454.8 L255.8,453.5 L256.5,454.3 L257.1,456.7 L257.9,460.4 L258.8,462.2 L259.4,462.5 L260.1,462.4 L260.8,462.5 L261.6,462.3 L262.4,462.4 L263.1,461.8 L263.9,462.0 L264.5,461.9 L265.4,461.4 L266.2,460.3 L266.9,458.4 L267.6,457.5 L268.3,457.8 L269.1,457.9 L269.9,459.1 L270.6,460.0 L271.4,461.8 L272.1,462.0 L272.8,461.6 L273.5,461.4 L274.2,459.6 L275.0,458.4 L275.7,458.4 L276.5,458.3 L277.3,457.7 L278.1,457.7 L278.9,458.3 L279.7,458.9 L280.4,459.7 L281.0,460.6 L281.6,460.6 L282.4,461.4 L283.5,461.9 L284.1,461.4 L284.7,462.1 L285.4,461.7 L286.2,462.1 L287.0,462.0 L287.8,461.3 L288.6,460.9 L289.5,460.7 L290.4,460.2 L291.2,459.5 L292.1,459.7 L293.0,459.5 L293.7,459.4 L294.4,460.1 L295.2,460.4 L295.9,460.0 L296.7,459.3 L297.4,459.9 L298.2,459.6 L299.0,459.1 L299.7,459.8 L300.5,460.4 L301.3,459.8 L302.1,459.8 L302.9,460.4 L303.6,460.1 L304.4,459.7 L305.2,459.3 L306.0,458.9 L306.9,459.9 L307.7,460.3 L308.6,459.7 L309.5,460.0 L310.4,459.6 L311.2,460.1 L312.1,459.9 L312.8,460.3 L313.6,460.3 L314.2,459.6 L314.9,460.0 L315.4,460.3 L315.8,459.6" fill="none" stroke="#2ca02c" stroke-width="1.05" stroke-linejoin="round" />
<path d="M37.1,492.3 L37.4,490.5 L37.8,488.3 L38.5,486.9 L39.1,486.3 L39.7,486.5 L40.5,486.7 L41.3,486.8 L42.0,487.4 L42.7,488.6 L43.4,489.7 L44.2,491.1 L44.9,492.6 L45.5,493.3 L46.2,494.6 L46.9,495.7 L47.5,496.7 L48.2,497.3 L48.9,496.9 L49.6,496.6 L50.3,496.0 L51.0,495.2 L51.7,495.4 L52.4,496.0 L53.1,496.5 L53.7,496.8 L54.3,496.1 L54.7,494.3 L54.9,491.6 L55.3,488.4 L56.1,485.8 L56.6,484.3 L57.3,482.7 L58.0,481.4 L58.9,479.6 L59.7,478.2 L60.6,477.0 L61.4,475.9 L62.3,474.4 L63.1,473.0 L63.9,472.5 L64.8,470.8 L65.7,469.8 L66.5,468.8 L67.4,468.3 L68.2,467.3 L69.0,466.6 L69.6,466.5 L70.1,467.0 L70.5,468.2 L70.7,471.1 L70.8,474.1 L70.8,477.5 L70.7,480.4 L70.8,483.5 L71.0,486.0 L71.6,487.7 L72.3,489.7 L73.1,490.5 L73.9,491.5 L74.5,492.2 L75.1,491.6 L75.5,490.5 L76.2,489.3 L76.8,489.3 L77.5,489.8 L78.2,490.1 L79.0,490.0 L79.8,490.2 L80.6,490.7 L81.4,491.0 L82.1,491.1 L82.9,491.9 L83.7,491.9 L84.4,492.3 L85.0,491.8 L85.8,490.7 L86.4,489.4 L87.0,488.0 L87.6,486.0 L88.1,483.4 L88.6,480.0 L89.2,476.8 L89.7,473.7 L90.3,471.4 L90.9,469.7 L91.5,468.7 L92.2,468.8 L92.8,468.7 L93.5,468.0 L94.2,467.7 L94.9,467.0 L95.6,467.2 L96.3,467.2 L97.0,467.4 L97.7,467.7 L98.4,468.3 L99.1,469.3 L99.8,469.9 L100.5,470.3 L101.2,471.0 L102.0,472.4 L102.7,473.0 L103.4,473.4 L104.0,474.0 L104.8,474.4 L105.5,474.7 L106.1,473.5 L106.3,471.2 L106.5,468.2 L106.6,465.2 L106.7,462.0 L106.8,459.5 L107.0,457.5 L107.4,459.1 L107.9,462.9 L108.4,466.2 L109.0,469.2 L109.6,471.1 L110.2,474.1 L110.7,475.1 L111.2,476.6 L111.9,478.1 L112.5,478.7 L113.2,478.6 L113.9,478.5 L114.7,477.1 L115.4,477.1 L116.1,476.3 L116.8,476.6 L117.6,476.0 L118.3,475.5 L118.9,473.9 L119.6,473.5 L120.1,471.6 L120.8,469.7 L121.6,468.6 L122.2,468.6 L122.9,467.6 L123.6,467.1 L124.4,466.8 L125.2,465.9 L126.0,465.1 L126.8,465.0 L127.6,465.3 L128.3,465.3 L129.1,464.5 L129.8,464.8 L130.6,465.2 L131.3,465.2 L132.1,464.4 L132.9,463.8 L133.6,465.0 L134.4,465.3 L135.1,464.8 L135.9,465.4 L136.6,465.6 L137.4,465.9 L138.2,465.7 L138.9,466.4 L139.7,466.4 L140.5,466.7 L141.2,466.9 L141.9,467.9 L142.6,468.8 L143.4,468.7 L144.1,468.6 L144.7,469.1 L145.4,470.4 L146.1,470.5 L146.7,470.0 L147.4,471.0 L148.1,470.8 L148.8,470.0 L149.5,470.7 L150.3,470.7 L151.0,471.3 L151.7,471.7 L152.4,471.9 L153.1,472.2 L153.9,471.6 L154.7,472.1 L155.5,471.9 L156.2,472.2 L157.0,471.9 L157.8,472.6 L158.6,472.2 L159.5,473.4 L160.3,473.0 L161.0,473.4 L161.7,473.9 L162.5,473.8 L163.3,473.2 L164.0,471.7 L164.6,469.9 L165.3,470.1 L166.1,468.9 L166.8,469.3 L167.5,468.8 L168.3,468.7 L169.1,468.9 L169.8,469.0 L170.6,469.5 L171.3,469.4 L172.1,468.7 L172.8,469.2 L173.6,468.8 L174.4,469.9 L175.1,469.2 L175.7,468.7 L176.2,468.0 L176.5,465.7 L176.7,463.0 L176.7,459.5 L176.7,455.7 L176.7,452.6 L176.9,450.8 L177.5,449.9 L178.3,451.4 L179.2,452.2 L179.8,452.4 L180.5,452.4 L181.2,452.6 L181.9,452.0 L182.7,451.7 L183.4,450.6 L184.2,449.4 L185.0,448.1 L185.7,447.6 L186.5,446.3 L187.1,445.9 L187.9,446.1 L188.5,447.0 L189.1,448.4 L189.7,450.4 L190.1,452.6 L190.5,456.0 L190.9,459.2 L191.3,462.5 L191.7,466.2 L192.1,468.2 L192.4,469.4 L192.9,468.7 L193.2,466.0 L193.6,462.0 L194.1,459.2 L194.7,458.1 L195.4,457.6 L196.1,456.5 L196.9,455.9 L197.6,455.5 L198.3,455.2 L199.1,454.4 L199.8,454.0 L200.5,454.0 L201.1,453.4 L201.7,454.3 L202.2,455.2 L202.8,457.9 L203.5,458.6 L204.1,459.4 L204.8,461.1 L205.6,461.9 L206.4,463.4 L207.1,464.3 L207.9,466.1 L208.6,466.8 L209.4,467.2 L210.1,467.5 L210.8,468.4 L211.6,469.3 L212.3,469.5 L213.1,469.1 L213.8,467.8 L214.6,467.1 L215.4,465.2 L216.1,463.9 L216.7,463.6 L217.5,462.8 L218.1,461.6 L218.7,461.6 L219.3,461.9 L219.9,462.1 L220.5,463.5 L221.1,465.6 L221.9,466.4 L222.5,466.6 L223.1,467.0 L223.7,466.5 L224.4,466.5 L225.3,467.6 L226.3,467.0 L226.9,467.6 L227.7,466.5 L228.4,466.4 L229.3,466.7 L230.1,466.4 L231.0,467.2 L231.8,467.6 L232.7,466.7 L233.6,465.9 L234.4,466.8 L235.1,467.1 L236.0,466.8 L236.8,466.1 L237.7,465.7 L238.5,466.7 L239.3,467.3 L240.1,467.4 L240.8,467.3 L241.5,467.2 L242.1,467.4 L243.1,467.8 L244.0,468.7 L244.8,468.9 L245.5,468.6 L246.0,467.7 L246.4,465.8 L246.6,462.8 L246.7,458.7 L246.8,455.8 L247.0,454.3 L247.6,455.0 L248.4,458.3 L249.1,462.9 L249.5,465.4 L250.0,468.8 L250.4,472.2 L250.8,475.6 L251.2,476.8 L251.5,475.4 L251.8,472.5 L252.1,469.1 L252.6,466.3 L253.2,464.5 L253.9,463.6 L254.7,462.5 L255.4,461.4 L256.1,460.8 L256.8,460.9 L257.3,461.6 L257.9,463.6 L258.8,464.5 L259.4,465.3 L260.0,466.2 L260.7,466.0 L261.5,465.9 L262.2,466.1 L263.0,466.4 L263.8,466.0 L264.5,466.3 L265.2,466.3 L265.9,465.9 L266.6,466.8 L267.4,466.9 L268.1,466.6 L268.8,465.6 L269.5,466.1 L270.2,465.7 L270.9,466.3 L271.6,466.1 L272.3,465.3 L273.0,465.6 L273.8,465.4 L274.5,464.9 L275.2,465.4 L275.9,464.9 L276.6,464.5 L277.2,464.3 L277.8,465.3 L278.4,465.4 L279.0,465.5 L279.8,465.4 L280.6,466.7 L281.6,466.5 L282.2,467.3 L282.8,467.7 L283.5,467.8 L284.2,466.8 L285.0,467.5 L285.7,467.2 L286.5,467.4 L287.3,467.5 L288.2,466.6 L289.0,466.2 L289.8,466.8 L290.6,466.0 L291.4,465.3 L292.2,464.9 L293.0,465.5 L293.8,465.3 L294.5,466.3 L295.3,465.3 L296.0,465.4 L296.8,465.9 L297.6,466.0 L298.3,466.4 L299.1,466.3 L299.8,466.7 L300.6,467.0 L301.4,467.0 L302.1,466.6 L302.9,466.1 L303.6,466.0 L304.4,465.5 L305.2,465.4 L306.0,465.7 L306.9,465.8 L307.7,465.8 L308.6,465.4 L309.5,466.6 L310.4,466.3 L311.2,466.4 L312.1,466.2 L312.8,466.6 L313.6,467.1 L314.2,467.7 L314.9,467.4 L315.4,467.9 L315.8,467.2" fill="none" stroke="#ff7f0e" stroke-width="1.05" stroke-linejoin="round" />
<path d="M37.1,477.8 L37.4,479.6 L37.8,482.6 L38.5,483.8 L39.1,483.7 L39.7,483.7 L40.5,482.8 L41.3,481.5 L42.0,480.2 L42.7,478.3 L43.4,475.8 L44.1,472.9 L44.8,470.2 L45.5,467.9 L46.2,465.8 L46.9,464.1 L47.6,462.3 L48.3,460.8 L49.0,460.3 L49.7,459.9 L50.4,459.3 L51.2,459.3 L51.9,459.6 L52.5,460.7 L53.0,462.8 L53.5,465.7 L53.9,468.3 L54.3,471.4 L54.8,474.5 L55.2,476.3 L55.7,478.2 L56.0,478.8 L56.6,479.9 L57.8,482.3 L58.3,483.6 L59.0,485.0 L59.7,486.2 L60.5,488.2 L61.3,490.2 L62.2,492.1 L63.0,494.0 L63.9,496.0 L64.8,497.9 L65.6,499.6 L66.4,501.3 L67.1,502.1 L67.8,503.1 L68.3,503.1 L69.1,502.6 L69.7,500.7 L70.1,497.9 L70.4,494.5 L70.6,490.6 L70.8,486.9 L71.0,483.7 L71.2,480.8 L71.4,478.1 L71.6,474.9 L71.7,471.7 L71.8,468.6 L71.9,465.5 L72.1,462.7 L72.2,460.7 L72.9,456.9 L73.6,456.7 L74.0,458.3 L74.5,460.3 L74.9,463.2 L75.4,466.5 L75.7,469.1 L75.9,471.9 L76.1,475.0 L76.3,477.9 L76.7,480.3 L77.1,482.2 L77.7,483.1 L78.4,482.8 L79.1,482.0 L79.9,481.4 L80.7,480.4 L81.5,479.7 L82.3,478.7 L83.1,477.2 L83.9,476.2 L84.6,474.9 L85.3,474.5 L85.9,474.1 L86.6,475.5 L87.1,478.1 L87.6,481.7 L88.1,484.7 L88.6,487.7 L89.2,490.9 L89.8,493.7 L90.3,495.7 L91.0,497.4 L91.7,497.2 L92.6,496.2 L93.2,495.1 L93.9,493.4 L94.7,491.6 L95.5,489.8 L96.2,487.8 L97.0,486.7 L97.7,486.2 L98.4,485.7 L99.1,486.0 L99.9,485.9 L100.6,486.3 L101.4,486.7 L102.1,486.7 L103.0,486.7 L103.8,486.6 L104.7,486.5 L105.4,486.3 L106.1,486.7 L106.7,487.2 L107.5,489.9 L107.8,493.4 L108.1,496.6 L108.6,499.4 L109.0,502.5 L109.6,503.6 L110.1,501.4 L110.6,498.1 L111.2,494.5 L111.9,492.3 L112.5,492.3 L113.2,493.1 L113.9,493.9 L114.7,495.1 L115.4,496.1 L116.1,497.0 L116.8,497.7 L117.4,498.5 L118.1,499.0 L118.9,499.4 L119.6,499.6 L120.3,498.9 L121.0,498.4 L121.7,497.7 L122.5,497.1 L123.3,496.5 L124.0,495.7 L124.7,495.2 L125.4,495.0 L126.2,494.6 L126.9,494.4 L127.7,493.6 L128.6,493.6 L129.3,493.3 L130.0,493.4 L130.8,493.2 L131.6,493.0 L132.4,493.0 L133.2,492.6 L134.0,493.0 L134.8,493.1 L135.6,492.9 L136.4,492.8 L137.1,492.7 L137.9,492.4 L138.7,492.1 L139.5,492.1 L140.2,492.3 L141.0,492.3 L141.8,492.2 L142.6,491.8 L143.3,491.7 L144.1,491.6 L144.9,491.8 L145.7,492.2 L146.5,492.3 L147.3,492.3 L148.0,492.3 L148.7,492.1 L149.4,492.1 L150.0,492.5 L150.9,492.4 L151.6,491.9 L152.2,491.5 L152.9,490.9 L153.8,490.6 L154.4,490.6 L155.1,490.7 L155.9,491.0 L156.7,491.8 L157.5,492.2 L158.3,492.4 L159.2,492.5 L160.0,492.7 L160.8,493.0 L161.6,493.3 L162.4,493.8 L163.2,494.1 L164.0,494.4 L164.8,495.0 L165.6,495.2 L166.4,495.4 L167.1,496.0 L167.8,496.1 L168.7,496.4 L169.5,496.5 L170.3,496.9 L171.1,496.7 L171.8,496.8 L172.5,497.2 L173.1,497.0 L174.1,498.1 L175.0,499.4 L175.7,499.3 L176.2,496.0 L176.3,494.4 L176.4,492.0 L176.4,489.7 L176.5,486.9 L176.5,483.8 L176.5,480.7 L176.5,477.4 L176.5,473.8 L176.5,470.1 L176.5,466.8 L176.5,463.6 L176.5,460.3 L176.5,457.4 L176.5,454.6 L176.6,452.5 L176.6,450.7 L176.8,445.3 L177.5,445.3 L178.0,444.9 L178.7,445.3 L179.5,445.6 L180.4,446.2 L181.1,446.8 L181.8,447.4 L182.6,447.9 L183.3,448.9 L183.9,450.1 L184.5,452.3 L184.9,454.2 L185.3,456.7 L185.6,459.7 L186.0,462.9 L186.4,466.0 L186.8,469.1 L187.1,471.9 L187.7,475.6 L188.2,479.2 L188.7,481.4 L189.2,482.5 L189.6,481.6 L190.1,479.5 L190.5,476.3 L191.0,473.1 L191.5,470.0 L191.9,467.4 L192.3,464.3 L192.7,461.3 L193.2,458.5 L193.6,455.9 L194.1,454.2 L194.8,453.4 L195.5,453.4 L196.2,454.2 L197.0,455.3 L197.6,456.0 L198.3,457.5 L198.9,459.1 L199.4,461.3 L200.0,463.0 L200.6,463.7 L201.3,464.3 L201.9,465.4 L202.6,466.6 L203.3,467.9 L203.9,469.4 L204.6,470.7 L205.3,471.9 L206.0,473.1 L206.6,473.8 L207.3,473.7 L207.9,473.1 L208.5,471.4 L209.1,469.3 L209.7,466.9 L210.5,465.0 L211.1,463.8 L211.9,462.8 L212.6,462.0 L213.4,461.5 L214.2,461.1 L214.9,460.9 L215.7,460.7 L216.4,460.8 L217.1,461.1 L217.7,461.3 L218.4,462.2 L219.2,464.0 L219.9,466.8 L220.6,469.6 L221.4,470.5 L222.1,469.4 L222.7,467.4 L223.5,464.7 L224.6,462.8 L225.2,462.6 L225.9,462.5 L226.7,462.2 L227.5,462.4 L228.3,462.1 L229.1,462.6 L230.0,462.6 L230.8,462.6 L231.6,462.5 L232.4,462.5 L233.2,462.9 L233.9,463.0 L234.7,463.6 L235.5,464.2 L236.3,464.2 L237.0,464.6 L237.8,464.7 L238.6,464.7 L239.4,464.6 L240.3,464.0 L241.2,463.5 L242.0,462.5 L242.9,462.0 L243.7,461.6 L244.5,461.3 L245.1,461.6 L245.6,462.9 L245.9,464.8 L246.1,467.3 L246.2,470.5 L246.2,474.2 L246.2,477.8 L246.2,481.1 L246.2,484.5 L246.3,487.0 L246.5,488.6 L247.1,489.5 L247.8,489.1 L248.6,487.6 L249.4,486.1 L250.2,484.1 L250.9,482.0 L251.5,480.4 L252.1,478.2 L252.6,475.6 L253.1,473.2 L253.5,469.8 L253.8,467.3 L254.0,464.0 L254.2,460.8 L254.5,457.4 L254.7,454.2 L254.9,451.4 L255.1,449.1 L255.3,447.4 L255.9,446.4 L256.4,448.9 L257.0,452.3 L257.3,454.6 L257.5,457.9 L257.8,461.4 L258.0,464.9 L258.4,467.6 L258.8,469.4 L259.4,470.1 L260.1,469.9 L260.9,468.9 L261.7,468.0 L262.6,466.5 L263.4,465.3 L264.2,464.8 L265.1,463.0 L265.9,462.7 L266.7,461.7 L267.4,460.7 L268.2,462.2 L268.9,465.0 L269.5,466.2 L270.2,467.0 L270.9,466.3 L271.6,465.3 L272.3,463.8 L273.1,460.8 L274.0,460.0 L274.6,460.7 L275.2,461.0 L275.8,461.8 L276.5,462.8 L277.2,463.0 L278.0,463.6 L278.8,465.5 L279.7,465.8 L280.4,465.9 L281.0,466.1 L281.8,466.5 L282.5,466.9 L283.3,465.7 L284.1,465.8 L284.9,464.8 L285.8,465.1 L286.6,465.6 L287.5,465.3 L288.3,464.9 L289.2,465.5 L289.9,465.6 L290.6,466.0 L291.3,465.6 L292.0,465.0 L292.7,465.4 L293.4,465.3 L294.2,464.4 L294.9,464.3 L295.7,465.6 L296.4,465.7 L297.2,464.9 L298.0,465.7 L298.9,466.1 L299.7,465.3 L300.6,466.4 L301.3,465.8 L302.1,466.0 L302.9,466.6 L303.8,466.6 L304.7,466.4 L305.6,466.6 L306.6,467.1 L307.5,467.9 L308.4,468.3 L309.4,468.8 L310.3,468.8 L311.2,468.4 L312.0,468.1 L312.8,468.9 L313.5,469.4 L314.2,468.7 L314.8,469.2 L315.4,468.7 L315.8,468.1" fill="none" stroke="#1f77b4" stroke-width="1.05" stroke-linejoin="round" />
<circle cx="37.1" cy="477.8" r="2.0" fill="#1f77b4"/>
<circle cx="55.2" cy="476.5" r="2.0" fill="#1f77b4"/>
<circle cx="72.2" cy="477.5" r="2.0" fill="#1f77b4"/>
<circle cx="81.5" cy="479.5" r="2.0" fill="#1f77b4"/>
<circle cx="106.7" cy="487.4" r="2.0" fill="#1f77b4"/>
<circle cx="123.3" cy="496.2" r="2.0" fill="#1f77b4"/>
<circle cx="173.1" cy="497.1" r="2.0" fill="#1f77b4"/>
<circle cx="176.6" cy="450.6" r="2.0" fill="#1f77b4"/>
<circle cx="189.2" cy="482.5" r="2.0" fill="#1f77b4"/>
<circle cx="205.3" cy="472.0" r="2.0" fill="#1f77b4"/>
<circle cx="231.6" cy="462.8" r="2.0" fill="#1f77b4"/>
<circle cx="250.9" cy="482.1" r="2.0" fill="#1f77b4"/>
<path d="M34.8,491.1 L39.4,491.1 L37.1,495.0Z" fill="#ff7f0e"/>
<path d="M60.8,471.8 L65.4,471.8 L63.1,475.7Z" fill="#ff7f0e"/>
<path d="M82.7,490.2 L87.3,490.2 L85.0,494.1Z" fill="#ff7f0e"/>
<path d="M140.3,466.5 L144.9,466.5 L142.6,470.4Z" fill="#ff7f0e"/>
<path d="M163.8,467.4 L168.4,467.4 L166.1,471.3Z" fill="#ff7f0e"/>
<path d="M214.4,461.2 L219.0,461.2 L216.7,465.1Z" fill="#ff7f0e"/>
<path d="M248.9,475.3 L253.5,475.3 L251.2,479.2Z" fill="#ff7f0e"/>
<path d="M34.8,454.8 L39.4,454.8 L37.1,450.9Z" fill="#2ca02c"/>
<path d="M73.9,444.3 L78.5,444.3 L76.2,440.4Z" fill="#2ca02c"/>
<path d="M108.4,441.3 L113.0,441.3 L110.7,437.4Z" fill="#2ca02c"/>
<path d="M160.2,437.2 L164.8,437.2 L162.5,433.3Z" fill="#2ca02c"/>
<path d="M195.3,449.5 L199.9,449.5 L197.6,445.6Z" fill="#2ca02c"/>
<path d="M239.8,462.7 L244.4,462.7 L242.1,458.8Z" fill="#2ca02c"/>
<rect x="256.5" y="469.3" width="55.5" height="33.7" rx="1.6" fill="#fff" fill-opacity="0.8" stroke="#d6d6d6" stroke-width="0.8"/>
<path d="M258.8,475.4 L274.0,475.4" fill="none" stroke="#1f77b4" stroke-width="1.05" stroke-linejoin="round" />
<circle cx="266.4" cy="475.4" r="2.0" fill="#1f77b4"/>
<text x="279.3" y="478.1" font-size="7.8" fill="#262626" textLength="29.9" lengthAdjust="spacingAndGlyphs">elevator</text>
<path d="M258.8,485.9 L274.0,485.9" fill="none" stroke="#ff7f0e" stroke-width="1.05" stroke-linejoin="round" />
<path d="M264.1,484.3 L268.7,484.3 L266.4,488.2Z" fill="#ff7f0e"/>
<text x="279.3" y="488.6" font-size="7.8" fill="#262626" textLength="24.7" lengthAdjust="spacingAndGlyphs">aileron</text>
<path d="M258.8,496.3 L274.0,496.3" fill="none" stroke="#2ca02c" stroke-width="1.05" stroke-linejoin="round" />
<path d="M264.1,497.9 L268.7,497.9 L266.4,494.0Z" fill="#2ca02c"/>
<text x="279.3" y="499.0" font-size="7.8" fill="#262626" textLength="26.7" lengthAdjust="spacingAndGlyphs">throttle</text>
</g>
<g fill="#262626">
<text x="176.20" y="10.90" font-size="10.0" text-anchor="middle" textLength="89" lengthAdjust="spacingAndGlyphs" >Roll (<tspan font-style="italic">ϕ</tspan>) and Pitch (<tspan font-style="italic">θ</tspan>)</text>
<text x="176.30" y="114.20" font-size="10.0" text-anchor="middle" textLength="76" lengthAdjust="spacingAndGlyphs" >Angular rates (<tspan font-style="italic">ω</tspan>)</text>
<text x="176.50" y="218.20" font-size="10.0" text-anchor="middle" textLength="237.5" lengthAdjust="spacingAndGlyphs" >Angle of attack (<tspan font-style="italic">α</tspan>), sideslip angle (<tspan font-style="italic">β</tspan>) and airspeed (<tspan font-style="italic">V</tspan><tspan font-size="7" font-style="italic" dy="1.5">a</tspan><tspan dy="-1.5">)</tspan></text>
<text x="176.50" y="322.40" font-size="10.0" text-anchor="middle" textLength="21.4" lengthAdjust="spacingAndGlyphs" >Wind</text>
<text x="176.20" y="426.50" font-size="10.0" text-anchor="middle" textLength="81.8" lengthAdjust="spacingAndGlyphs" >Control commands</text>
<text x="176.40" y="525.00" font-size="8.3" text-anchor="middle" textLength="29" lengthAdjust="spacingAndGlyphs" >Time (s)</text>
<text x="19.80" y="52.50" font-size="7.8" text-anchor="middle" textLength="28.6" lengthAdjust="spacingAndGlyphs" transform="rotate(-90 19.8 52.5)" >degrees</text>
<text x="9.60" y="156.70" font-size="7.8" text-anchor="middle" textLength="36.5" lengthAdjust="spacingAndGlyphs" transform="rotate(-90 9.6 156.7)" >degrees/s</text>
<text x="14.00" y="260.00" font-size="7.8" text-anchor="middle" textLength="28.6" lengthAdjust="spacingAndGlyphs" transform="rotate(-90 14.0 260.0)" >degrees</text>
<text x="19.80" y="364.00" font-size="7.8" text-anchor="middle" textLength="13.5" lengthAdjust="spacingAndGlyphs" transform="rotate(-90 19.8 364.0)" >m/s</text>
<text x="9.20" y="468.00" font-size="8.3" text-anchor="middle" textLength="7" lengthAdjust="spacingAndGlyphs" transform="rotate(-90 9.2 468.0)" >%</text>
<text x="337.00" y="260.00" font-size="7.8" text-anchor="middle" textLength="13.5" lengthAdjust="spacingAndGlyphs" transform="rotate(-90 337.0 260.0)" >m/s</text>
</g>
<rect x="37.0" y="14.0" width="279.30" height="77.00" fill="none" stroke="#8c8c8c" stroke-width="1.6"/>
<rect x="37.0" y="117.9" width="279.30" height="77.30" fill="none" stroke="#8c8c8c" stroke-width="1.6"/>
<rect x="37.0" y="221.9" width="279.30" height="77.10" fill="none" stroke="#8c8c8c" stroke-width="1.6"/>
<rect x="37.0" y="325.8" width="279.30" height="77.20" fill="none" stroke="#8c8c8c" stroke-width="1.6"/>
<rect x="37.0" y="429.6" width="279.30" height="77.10" fill="none" stroke="#8c8c8c" stroke-width="1.6"/>

</svg></body></html>
